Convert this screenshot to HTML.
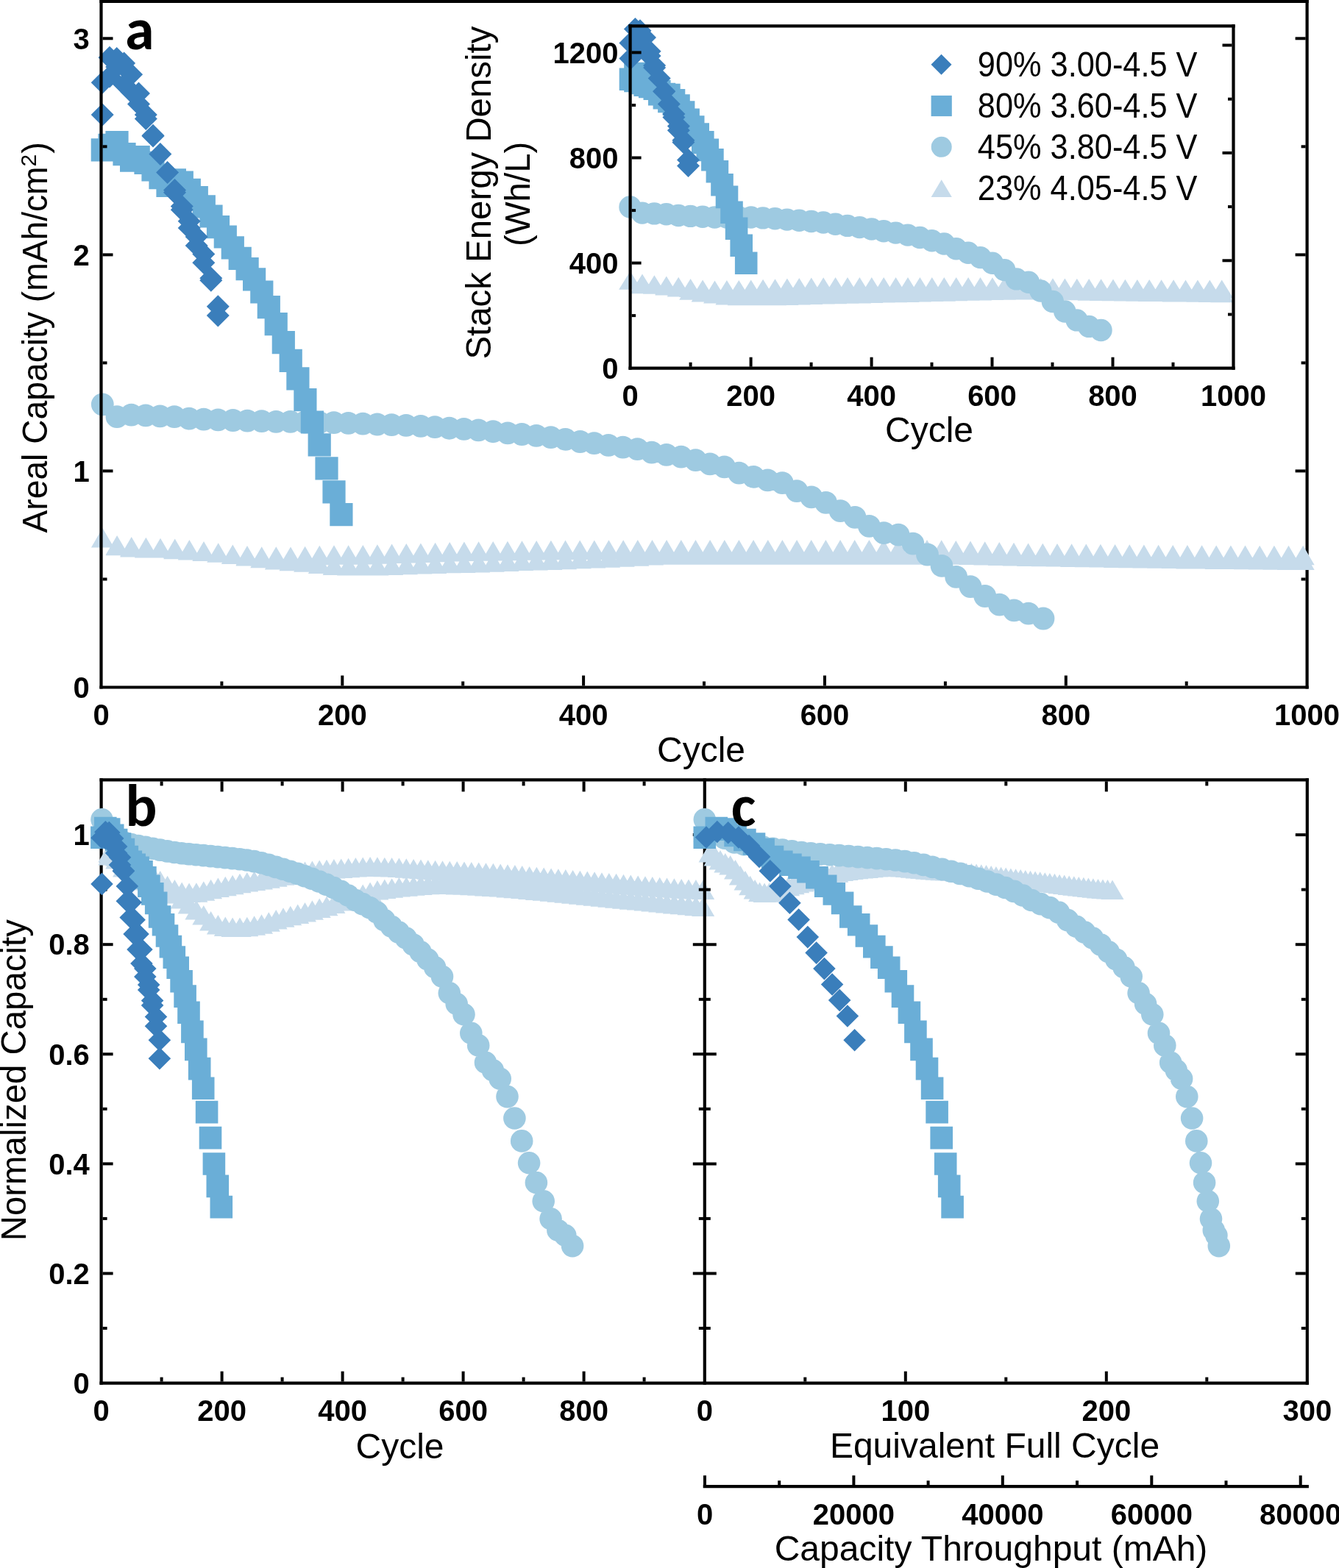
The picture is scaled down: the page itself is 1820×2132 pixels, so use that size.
<!DOCTYPE html>
<html><head><meta charset="utf-8"><title>Figure</title>
<style>html,body{margin:0;padding:0;background:#fff;} svg{display:block;}</style>
</head><body>
<svg xmlns="http://www.w3.org/2000/svg" width="1820" height="2132" viewBox="0 0 1820 2132">
<rect width="1820" height="2132" fill="#fff"/>
<line x1="135.4" y1="2" x2="1778.7" y2="2" stroke="#000" stroke-width="4.2"/>
<line x1="1776.6" y1="0" x2="1776.6" y2="936.6" stroke="#000" stroke-width="4.2"/>
<line x1="135.4" y1="934.5" x2="1778.7" y2="934.5" stroke="#000" stroke-width="4.2"/>
<line x1="301.4" y1="932.5" x2="301.4" y2="926.5" stroke="#000" stroke-width="4"/>
<line x1="465.3" y1="932.5" x2="465.3" y2="918.5" stroke="#000" stroke-width="4"/>
<line x1="629.2" y1="932.5" x2="629.2" y2="926.5" stroke="#000" stroke-width="4"/>
<line x1="793.1" y1="932.5" x2="793.1" y2="918.5" stroke="#000" stroke-width="4"/>
<line x1="957" y1="932.5" x2="957" y2="926.5" stroke="#000" stroke-width="4"/>
<line x1="1121" y1="932.5" x2="1121" y2="918.5" stroke="#000" stroke-width="4"/>
<line x1="1284.9" y1="932.5" x2="1284.9" y2="926.5" stroke="#000" stroke-width="4"/>
<line x1="1448.8" y1="932.5" x2="1448.8" y2="918.5" stroke="#000" stroke-width="4"/>
<line x1="1612.7" y1="932.5" x2="1612.7" y2="926.5" stroke="#000" stroke-width="4"/>
<line x1="1774.6" y1="787.5" x2="1768.6" y2="787.5" stroke="#000" stroke-width="4"/>
<line x1="1774.6" y1="640.4" x2="1760.6" y2="640.4" stroke="#000" stroke-width="4"/>
<line x1="1774.6" y1="493.4" x2="1768.6" y2="493.4" stroke="#000" stroke-width="4"/>
<line x1="1774.6" y1="346.4" x2="1760.6" y2="346.4" stroke="#000" stroke-width="4"/>
<line x1="1774.6" y1="199.3" x2="1768.6" y2="199.3" stroke="#000" stroke-width="4"/>
<line x1="1774.6" y1="52.3" x2="1760.6" y2="52.3" stroke="#000" stroke-width="4"/>
<path fill="#c6dbeb" d="M159.1 728.7L174.6 755.2L143.6 755.2ZM178.7 731L194.2 757.5L163.2 757.5ZM198.4 732.1L213.9 758.6L182.9 758.6ZM218 732.1L233.5 758.6L202.5 758.6ZM237.7 733.7L253.2 760.2L222.2 760.2ZM257.4 735.1L272.9 761.6L241.9 761.6ZM277 736.6L292.5 763.1L261.5 763.1ZM296.7 738.2L312.2 764.7L281.2 764.7ZM316.3 740.5L331.8 767L300.8 767ZM336 743L351.5 769.5L320.5 769.5ZM355.7 745.7L371.2 772.2L340.2 772.2ZM375.3 747.9L390.8 774.4L359.8 774.4ZM395 749.8L410.5 776.3L379.5 776.3ZM414.6 751.3L430.1 777.8L399.1 777.8ZM434.3 753.6L449.8 780.1L418.8 780.1ZM454 755.4L469.5 781.9L438.5 781.9ZM473.6 755.9L489.1 782.4L458.1 782.4ZM493.3 755.9L508.8 782.4L477.8 782.4ZM512.9 755.9L528.4 782.4L497.4 782.4ZM532.6 755.5L548.1 782L517.1 782ZM552.3 754.8L567.8 781.3L536.8 781.3ZM571.9 754.1L587.4 780.6L556.4 780.6ZM591.6 753.4L607.1 779.9L576.1 779.9ZM611.2 752.8L626.7 779.3L595.7 779.3ZM630.9 752.4L646.4 778.9L615.4 778.9ZM650.6 751.9L666.1 778.4L635.1 778.4ZM670.2 751.2L685.7 777.7L654.7 777.7ZM689.9 750.4L705.4 776.9L674.4 776.9ZM709.5 749.6L725 776.1L694 776.1ZM729.2 748.9L744.7 775.4L713.7 775.4ZM748.9 748.4L764.4 774.9L733.4 774.9ZM768.5 747.8L784 774.3L753 774.3ZM788.2 746.8L803.7 773.3L772.7 773.3ZM807.8 746L823.3 772.5L792.3 772.5ZM827.5 745.2L843 771.7L812 771.7ZM847.2 744.3L862.7 770.8L831.7 770.8ZM866.8 743.2L882.3 769.7L851.3 769.7ZM886.5 742L902 768.5L871 768.5ZM906.1 741.3L921.6 767.8L890.6 767.8ZM925.8 741.3L941.3 767.8L910.3 767.8ZM945.5 741.3L961 767.8L930 767.8ZM965.1 741.3L980.6 767.8L949.6 767.8ZM984.8 741.3L1000.3 767.8L969.3 767.8ZM1004.4 741.3L1019.9 767.8L988.9 767.8ZM1024.1 741.3L1039.6 767.8L1008.6 767.8ZM1043.8 741.3L1059.3 767.8L1028.3 767.8ZM1063.4 741.3L1078.9 767.8L1047.9 767.8ZM1083.1 741.3L1098.6 767.8L1067.6 767.8ZM1102.7 741.3L1118.2 767.8L1087.2 767.8ZM1122.4 741.3L1137.9 767.8L1106.9 767.8ZM1142.1 741.3L1157.6 767.8L1126.6 767.8ZM1161.7 741.3L1177.2 767.8L1146.2 767.8ZM1181.4 741.3L1196.9 767.8L1165.9 767.8ZM1201 741.3L1216.5 767.8L1185.5 767.8ZM1220.7 741.3L1236.2 767.8L1205.2 767.8ZM1240.4 741.3L1255.9 767.8L1224.9 767.8ZM1260 741.3L1275.5 767.8L1244.5 767.8ZM1279.7 741.3L1295.2 767.8L1264.2 767.8ZM1299.3 741.3L1314.8 767.8L1283.8 767.8ZM1319 741.5L1334.5 768L1303.5 768ZM1338.7 741.9L1354.2 768.4L1323.2 768.4ZM1358.3 742.4L1373.8 768.9L1342.8 768.9ZM1378 743L1393.5 769.5L1362.5 769.5ZM1397.6 743.5L1413.1 770L1382.1 770ZM1417.3 743.8L1432.8 770.3L1401.8 770.3ZM1437 744.1L1452.5 770.6L1421.5 770.6ZM1456.6 744.5L1472.1 771L1441.1 771ZM1476.3 744.8L1491.8 771.3L1460.8 771.3ZM1495.9 745.1L1511.4 771.6L1480.4 771.6ZM1515.6 745.4L1531.1 771.9L1500.1 771.9ZM1535.3 745.8L1550.8 772.3L1519.8 772.3ZM1554.9 746.1L1570.4 772.6L1539.4 772.6ZM1574.6 746.3L1590.1 772.8L1559.1 772.8ZM1594.2 746.6L1609.7 773.1L1578.7 773.1ZM1613.9 746.9L1629.4 773.4L1598.4 773.4ZM1633.6 747.1L1649.1 773.6L1618.1 773.6ZM1653.2 747.4L1668.7 773.9L1637.7 773.9ZM1672.9 747.6L1688.4 774.1L1657.4 774.1ZM1692.5 747.8L1708 774.3L1677 774.3ZM1712.2 748L1727.7 774.5L1696.7 774.5ZM1731.9 748.2L1747.4 774.7L1716.4 774.7ZM1751.5 748.4L1767 774.9L1736 774.9ZM1771.2 748.5L1786.7 775L1755.7 775ZM139.4 717.9L154.9 744.4L123.9 744.4ZM159.1 728.1L174.6 754.6L143.6 754.6ZM178.7 729.9L194.2 756.4L163.2 756.4ZM198.4 730.8L213.9 757.3L182.9 757.3ZM218 731.7L233.5 758.2L202.5 758.2ZM237.7 732.6L253.2 759.1L222.2 759.1ZM257.4 734L272.9 760.5L241.9 760.5ZM277 736L292.5 762.5L261.5 762.5ZM296.7 738.3L312.2 764.8L281.2 764.8ZM316.3 740.5L331.8 767L300.8 767ZM336 742.1L351.5 768.6L320.5 768.6ZM355.7 743.2L371.2 769.7L340.2 769.7ZM375.3 743.2L390.8 769.7L359.8 769.7ZM395 743.5L410.5 770L379.5 770ZM414.6 742.8L430.1 769.3L399.1 769.3ZM434.3 741.7L449.8 768.2L418.8 768.2ZM454 741.2L469.5 767.7L438.5 767.7ZM473.6 741.2L489.1 767.7L458.1 767.7ZM493.3 741L508.8 767.5L477.8 767.5ZM512.9 740.3L528.4 766.8L497.4 766.8ZM532.6 739.6L548.1 766.1L517.1 766.1ZM552.3 738.9L567.8 765.4L536.8 765.4ZM571.9 738.4L587.4 764.9L556.4 764.9ZM591.6 737.8L607.1 764.3L576.1 764.3ZM611.2 736.9L626.7 763.4L595.7 763.4ZM630.9 736.5L646.4 763L615.4 763ZM650.6 736.2L666.1 762.7L635.1 762.7ZM670.2 736L685.7 762.5L654.7 762.5ZM689.9 735.7L705.4 762.2L674.4 762.2ZM709.5 735.3L725 761.8L694 761.8ZM729.2 735L744.7 761.5L713.7 761.5ZM748.9 734.8L764.4 761.3L733.4 761.3ZM768.5 734.6L784 761.1L753 761.1ZM788.2 734.5L803.7 761L772.7 761ZM807.8 734.4L823.3 760.9L792.3 760.9ZM827.5 734.3L843 760.8L812 760.8ZM847.2 734.2L862.7 760.7L831.7 760.7ZM866.8 734.1L882.3 760.6L851.3 760.6ZM886.5 734L902 760.5L871 760.5ZM906.1 733.9L921.6 760.4L890.6 760.4ZM925.8 733.9L941.3 760.4L910.3 760.4ZM945.5 733.9L961 760.4L930 760.4ZM965.1 733.9L980.6 760.4L949.6 760.4ZM984.8 733.9L1000.3 760.4L969.3 760.4ZM1004.4 733.9L1019.9 760.4L988.9 760.4ZM1024.1 733.9L1039.6 760.4L1008.6 760.4ZM1043.8 733.9L1059.3 760.4L1028.3 760.4ZM1063.4 733.9L1078.9 760.4L1047.9 760.4ZM1083.1 733.9L1098.6 760.4L1067.6 760.4ZM1102.7 733.9L1118.2 760.4L1087.2 760.4ZM1122.4 733.9L1137.9 760.4L1106.9 760.4ZM1142.1 733.9L1157.6 760.4L1126.6 760.4ZM1161.7 733.9L1177.2 760.4L1146.2 760.4ZM1181.4 733.9L1196.9 760.4L1165.9 760.4ZM1201 733.9L1216.5 760.4L1185.5 760.4ZM1220.7 733.9L1236.2 760.4L1205.2 760.4ZM1240.4 733.9L1255.9 760.4L1224.9 760.4ZM1260 734L1275.5 760.5L1244.5 760.5ZM1279.7 734.3L1295.2 760.8L1264.2 760.8ZM1299.3 735L1314.8 761.5L1283.8 761.5ZM1319 735.6L1334.5 762.1L1303.5 762.1ZM1338.7 736.3L1354.2 762.8L1323.2 762.8ZM1358.3 737L1373.8 763.5L1342.8 763.5ZM1378 737.8L1393.5 764.3L1362.5 764.3ZM1397.6 738.4L1413.1 764.9L1382.1 764.9ZM1417.3 738.7L1432.8 765.2L1401.8 765.2ZM1437 739L1452.5 765.5L1421.5 765.5ZM1456.6 739.3L1472.1 765.8L1441.1 765.8ZM1476.3 739.6L1491.8 766.1L1460.8 766.1ZM1495.9 739.8L1511.4 766.3L1480.4 766.3ZM1515.6 740.1L1531.1 766.6L1500.1 766.6ZM1535.3 740.3L1550.8 766.8L1519.8 766.8ZM1554.9 740.6L1570.4 767.1L1539.4 767.1ZM1574.6 740.8L1590.1 767.3L1559.1 767.3ZM1594.2 741L1609.7 767.5L1578.7 767.5ZM1613.9 741.1L1629.4 767.6L1598.4 767.6ZM1633.6 741.3L1649.1 767.8L1618.1 767.8ZM1653.2 741.4L1668.7 767.9L1637.7 767.9ZM1672.9 741.5L1688.4 768L1657.4 768ZM1692.5 741.6L1708 768.1L1677 768.1ZM1712.2 741.7L1727.7 768.2L1696.7 768.2ZM1731.9 741.8L1747.4 768.3L1716.4 768.3ZM1751.5 741.8L1767 768.3L1736 768.3ZM1771.2 741.8L1786.7 768.3L1755.7 768.3Z"/>
<path fill="#9ecae1" d="M123.9 549.8a15.4 15.4 0 1 0 30.8 0a15.4 15.4 0 1 0 -30.8 0ZM143.6 566.7a15.4 15.4 0 1 0 30.8 0a15.4 15.4 0 1 0 -30.8 0ZM163.1 564.2a15.4 15.4 0 1 0 30.8 0a15.4 15.4 0 1 0 -30.8 0ZM182.6 564.9a15.4 15.4 0 1 0 30.8 0a15.4 15.4 0 1 0 -30.8 0ZM202.1 565.9a15.4 15.4 0 1 0 30.8 0a15.4 15.4 0 1 0 -30.8 0ZM221.6 566.7a15.4 15.4 0 1 0 30.8 0a15.4 15.4 0 1 0 -30.8 0ZM241.6 569.1a15.4 15.4 0 1 0 30.8 0a15.4 15.4 0 1 0 -30.8 0ZM261.5 570.1a15.4 15.4 0 1 0 30.8 0a15.4 15.4 0 1 0 -30.8 0ZM281 570.8a15.4 15.4 0 1 0 30.8 0a15.4 15.4 0 1 0 -30.8 0ZM301.3 571.5a15.4 15.4 0 1 0 30.8 0a15.4 15.4 0 1 0 -30.8 0ZM320.8 572.2a15.4 15.4 0 1 0 30.8 0a15.4 15.4 0 1 0 -30.8 0ZM340.3 572.7a15.4 15.4 0 1 0 30.8 0a15.4 15.4 0 1 0 -30.8 0ZM359.8 573.3a15.4 15.4 0 1 0 30.8 0a15.4 15.4 0 1 0 -30.8 0ZM379.3 573.3a15.4 15.4 0 1 0 30.8 0a15.4 15.4 0 1 0 -30.8 0ZM399 574a15.4 15.4 0 1 0 30.8 0a15.4 15.4 0 1 0 -30.8 0ZM418.6 574.5a15.4 15.4 0 1 0 30.8 0a15.4 15.4 0 1 0 -30.8 0ZM438.4 574.7a15.4 15.4 0 1 0 30.8 0a15.4 15.4 0 1 0 -30.8 0ZM458.1 575.4a15.4 15.4 0 1 0 30.8 0a15.4 15.4 0 1 0 -30.8 0ZM477.8 576.1a15.4 15.4 0 1 0 30.8 0a15.4 15.4 0 1 0 -30.8 0ZM497.2 577a15.4 15.4 0 1 0 30.8 0a15.4 15.4 0 1 0 -30.8 0ZM516.9 577.6a15.4 15.4 0 1 0 30.8 0a15.4 15.4 0 1 0 -30.8 0ZM536.6 578.3a15.4 15.4 0 1 0 30.8 0a15.4 15.4 0 1 0 -30.8 0ZM556.5 579.4a15.4 15.4 0 1 0 30.8 0a15.4 15.4 0 1 0 -30.8 0ZM575.7 580.6a15.4 15.4 0 1 0 30.8 0a15.4 15.4 0 1 0 -30.8 0ZM595.3 582.2a15.4 15.4 0 1 0 30.8 0a15.4 15.4 0 1 0 -30.8 0ZM615.2 583.3a15.4 15.4 0 1 0 30.8 0a15.4 15.4 0 1 0 -30.8 0ZM634.9 584.9a15.4 15.4 0 1 0 30.8 0a15.4 15.4 0 1 0 -30.8 0ZM654.8 586.7a15.4 15.4 0 1 0 30.8 0a15.4 15.4 0 1 0 -30.8 0ZM674.7 588.9a15.4 15.4 0 1 0 30.8 0a15.4 15.4 0 1 0 -30.8 0ZM693.9 590.5a15.4 15.4 0 1 0 30.8 0a15.4 15.4 0 1 0 -30.8 0ZM713.6 592.3a15.4 15.4 0 1 0 30.8 0a15.4 15.4 0 1 0 -30.8 0ZM733.3 594.6a15.4 15.4 0 1 0 30.8 0a15.4 15.4 0 1 0 -30.8 0ZM753.2 597.3a15.4 15.4 0 1 0 30.8 0a15.4 15.4 0 1 0 -30.8 0ZM773.1 600.5a15.4 15.4 0 1 0 30.8 0a15.4 15.4 0 1 0 -30.8 0ZM792.2 602.7a15.4 15.4 0 1 0 30.8 0a15.4 15.4 0 1 0 -30.8 0ZM811.6 605.4a15.4 15.4 0 1 0 30.8 0a15.4 15.4 0 1 0 -30.8 0ZM831.3 608.1a15.4 15.4 0 1 0 30.8 0a15.4 15.4 0 1 0 -30.8 0ZM851 610.6a15.4 15.4 0 1 0 30.8 0a15.4 15.4 0 1 0 -30.8 0ZM870.4 615.1a15.4 15.4 0 1 0 30.8 0a15.4 15.4 0 1 0 -30.8 0ZM890.5 618.3a15.4 15.4 0 1 0 30.8 0a15.4 15.4 0 1 0 -30.8 0ZM910.4 621.2a15.4 15.4 0 1 0 30.8 0a15.4 15.4 0 1 0 -30.8 0ZM930.1 625.7a15.4 15.4 0 1 0 30.8 0a15.4 15.4 0 1 0 -30.8 0ZM949.6 630.9a15.4 15.4 0 1 0 30.8 0a15.4 15.4 0 1 0 -30.8 0ZM969.2 634.8a15.4 15.4 0 1 0 30.8 0a15.4 15.4 0 1 0 -30.8 0ZM989.1 643.1a15.4 15.4 0 1 0 30.8 0a15.4 15.4 0 1 0 -30.8 0ZM1008.8 648.3a15.4 15.4 0 1 0 30.8 0a15.4 15.4 0 1 0 -30.8 0ZM1028 652.9a15.4 15.4 0 1 0 30.8 0a15.4 15.4 0 1 0 -30.8 0ZM1047.9 656.7a15.4 15.4 0 1 0 30.8 0a15.4 15.4 0 1 0 -30.8 0ZM1067.6 667.6a15.4 15.4 0 1 0 30.8 0a15.4 15.4 0 1 0 -30.8 0ZM1087.5 675.9a15.4 15.4 0 1 0 30.8 0a15.4 15.4 0 1 0 -30.8 0ZM1107.2 683.4a15.4 15.4 0 1 0 30.8 0a15.4 15.4 0 1 0 -30.8 0ZM1126.8 694.7a15.4 15.4 0 1 0 30.8 0a15.4 15.4 0 1 0 -30.8 0ZM1146.7 703.4a15.4 15.4 0 1 0 30.8 0a15.4 15.4 0 1 0 -30.8 0ZM1166.1 715.4a15.4 15.4 0 1 0 30.8 0a15.4 15.4 0 1 0 -30.8 0ZM1186 724.7a15.4 15.4 0 1 0 30.8 0a15.4 15.4 0 1 0 -30.8 0ZM1205.7 727.2a15.4 15.4 0 1 0 30.8 0a15.4 15.4 0 1 0 -30.8 0ZM1225.5 739.1a15.4 15.4 0 1 0 30.8 0a15.4 15.4 0 1 0 -30.8 0ZM1245.1 754a15.4 15.4 0 1 0 30.8 0a15.4 15.4 0 1 0 -30.8 0ZM1264.6 769.3a15.4 15.4 0 1 0 30.8 0a15.4 15.4 0 1 0 -30.8 0ZM1284.3 784.4a15.4 15.4 0 1 0 30.8 0a15.4 15.4 0 1 0 -30.8 0ZM1303.6 797.6a15.4 15.4 0 1 0 30.8 0a15.4 15.4 0 1 0 -30.8 0ZM1323.4 810.5a15.4 15.4 0 1 0 30.8 0a15.4 15.4 0 1 0 -30.8 0ZM1343.1 822.2a15.4 15.4 0 1 0 30.8 0a15.4 15.4 0 1 0 -30.8 0ZM1362.9 829.8a15.4 15.4 0 1 0 30.8 0a15.4 15.4 0 1 0 -30.8 0ZM1382.5 834.2a15.4 15.4 0 1 0 30.8 0a15.4 15.4 0 1 0 -30.8 0ZM1402.6 841a15.4 15.4 0 1 0 30.8 0a15.4 15.4 0 1 0 -30.8 0Z"/>
<path fill="#6aaed7" d="M123.7 188.3h31.2v31.2h-31.2ZM133.4 181.7h31.2v31.2h-31.2ZM143.4 178.1h31.2v31.2h-31.2ZM153.4 194.1h31.2v31.2h-31.2ZM163 202.6h31.2v31.2h-31.2ZM172.6 198.1h31.2v31.2h-31.2ZM182.4 205.8h31.2v31.2h-31.2ZM192.4 215.2h31.2v31.2h-31.2ZM202.4 226.1h31.2v31.2h-31.2ZM212.4 236.9h31.2v31.2h-31.2ZM221.8 229.2h31.2v31.2h-31.2ZM231.7 232.4h31.2v31.2h-31.2ZM241.7 242.8h31.2v31.2h-31.2ZM251.7 253.1h31.2v31.2h-31.2ZM261.7 265.2h31.2v31.2h-31.2ZM271.4 278.4h31.2v31.2h-31.2ZM280.9 293h31.2v31.2h-31.2ZM290.7 306.4h31.2v31.2h-31.2ZM300.7 321.3h31.2v31.2h-31.2ZM310.6 335.8h31.2v31.2h-31.2ZM320.5 350.1h31.2v31.2h-31.2ZM330 364.2h31.2v31.2h-31.2ZM340.2 381.4h31.2v31.2h-31.2ZM349.7 402.1h31.2v31.2h-31.2ZM359.6 425h31.2v31.2h-31.2ZM369.7 450.1h31.2v31.2h-31.2ZM379.6 474.7h31.2v31.2h-31.2ZM389.3 499.3h31.2v31.2h-31.2ZM399.3 528.1h31.2v31.2h-31.2ZM408.8 558.4h31.2v31.2h-31.2ZM418.6 589.3h31.2v31.2h-31.2ZM428.4 621.3h31.2v31.2h-31.2ZM438.4 653.2h31.2v31.2h-31.2ZM448.3 684h31.2v31.2h-31.2Z"/>
<path fill="#3a7ebb" d="M123.7 156L139.2 140.5L154.7 156L139.2 171.5ZM133.5 104L149 88.5L164.5 104L149 119.5ZM143.2 91L158.7 75.5L174.2 91L158.7 106.5ZM153.1 114.7L168.6 99.2L184.1 114.7L168.6 130.2ZM163.1 125L178.6 109.5L194.1 125L178.6 140.5ZM173 141.6L188.5 126.1L204 141.6L188.5 157.1ZM182.8 161.5L198.3 146L213.8 161.5L198.3 177ZM192.5 185L208 169.5L223.5 185L208 200.5ZM202.4 209.6L217.9 194.1L233.4 209.6L217.9 225.1ZM212.1 234.6L227.6 219.1L243.1 234.6L227.6 250.1ZM222 261.8L237.5 246.3L253 261.8L237.5 277.3ZM231.8 285.2L247.3 269.7L262.8 285.2L247.3 300.7ZM241.7 310L257.2 294.5L272.7 310L257.2 325.5ZM251.7 333.9L267.2 318.4L282.7 333.9L267.2 349.4ZM261.3 357.3L276.8 341.8L292.3 357.3L276.8 372.8ZM271.3 381.2L286.8 365.7L302.3 381.2L286.8 396.7ZM280.8 429L296.3 413.5L311.8 429L296.3 444.5ZM123.7 112.3L139.2 96.8L154.7 112.3L139.2 127.8ZM133.5 78.3L149 62.8L164.5 78.3L149 93.8ZM143.2 79.6L158.7 64.1L174.2 79.6L158.7 95.1ZM153.1 86.1L168.6 70.6L184.1 86.1L168.6 101.6ZM163.1 101.3L178.6 85.8L194.1 101.3L178.6 116.8ZM173 127.1L188.5 111.6L204 127.1L188.5 142.6ZM182.8 156L198.3 140.5L213.8 156L198.3 171.5ZM192.5 184.3L208 168.8L223.5 184.3L208 199.8ZM202.4 209.6L217.9 194.1L233.4 209.6L217.9 225.1ZM212.1 234.6L227.6 219.1L243.1 234.6L227.6 250.1ZM222 258.5L237.5 243L253 258.5L237.5 274ZM231.8 280.6L247.3 265.1L262.8 280.6L247.3 296.1ZM241.7 300.8L257.2 285.3L272.7 300.8L257.2 316.3ZM251.7 322L267.2 306.5L282.7 322L267.2 337.5ZM261.3 345.6L276.8 330.1L292.3 345.6L276.8 361.1ZM271.3 378.2L286.8 362.7L302.3 378.2L286.8 393.7ZM280.8 416.8L296.3 401.3L311.8 416.8L296.3 432.3Z"/>
<line x1="137.5" y1="0" x2="137.5" y2="936.6" stroke="#000" stroke-width="4.2"/>
<line x1="139.5" y1="787.5" x2="145.5" y2="787.5" stroke="#000" stroke-width="4"/>
<line x1="139.5" y1="640.4" x2="153.5" y2="640.4" stroke="#000" stroke-width="4"/>
<line x1="139.5" y1="493.4" x2="145.5" y2="493.4" stroke="#000" stroke-width="4"/>
<line x1="139.5" y1="346.4" x2="153.5" y2="346.4" stroke="#000" stroke-width="4"/>
<line x1="139.5" y1="199.3" x2="145.5" y2="199.3" stroke="#000" stroke-width="4"/>
<line x1="139.5" y1="52.3" x2="153.5" y2="52.3" stroke="#000" stroke-width="4"/>
<path fill="#c6dbeb" d="M873 374.2L888.5 399.2L857.5 399.2ZM889.4 374.8L904.9 399.8L873.9 399.8ZM905.8 376.4L921.3 401.4L890.3 401.4ZM922.2 378.5L937.7 403.5L906.7 403.5ZM938.6 382.7L954.1 407.7L923.1 407.7ZM955.1 385.4L970.6 410.4L939.6 410.4ZM971.5 387.5L987 412.5L956 412.5ZM987.9 389.5L1003.4 414.5L972.4 414.5ZM1004.3 390.3L1019.8 415.3L988.8 415.3ZM1020.7 390.3L1036.2 415.3L1005.2 415.3ZM1037.1 390.3L1052.6 415.3L1021.6 415.3ZM1053.5 390.3L1069 415.3L1038 415.3ZM1069.9 390L1085.4 415L1054.4 415ZM1086.3 389.6L1101.8 414.6L1070.8 414.6ZM1102.8 389L1118.2 414L1087.2 414ZM1119.2 388.6L1134.7 413.6L1103.7 413.6ZM1135.6 388.2L1151.1 413.2L1120.1 413.2ZM1152 387.8L1167.5 412.8L1136.5 412.8ZM1168.4 387.4L1183.9 412.4L1152.9 412.4ZM1184.8 387L1200.3 412L1169.3 412ZM1201.2 386.6L1216.7 411.6L1185.7 411.6ZM1217.6 386.2L1233.1 411.2L1202.1 411.2ZM1234 385.9L1249.5 410.9L1218.5 410.9ZM1250.4 385.5L1265.9 410.5L1234.9 410.5ZM1266.8 385.1L1282.3 410.1L1251.3 410.1ZM1283.3 384.7L1298.8 409.7L1267.8 409.7ZM1299.7 384.2L1315.2 409.2L1284.2 409.2ZM1316.1 383.8L1331.6 408.8L1300.6 408.8ZM1332.5 383.4L1348 408.4L1317 408.4ZM1348.9 383L1364.4 408L1333.4 408ZM1365.3 382.8L1380.8 407.8L1349.8 407.8ZM1381.7 382.6L1397.2 407.6L1366.2 407.6ZM1398.1 382.5L1413.6 407.5L1382.6 407.5ZM1414.5 382.6L1430 407.6L1399 407.6ZM1431 382.8L1446.5 407.8L1415.5 407.8ZM1447.4 383L1462.9 408L1431.9 408ZM1463.8 383.3L1479.3 408.3L1448.3 408.3ZM1480.2 383.7L1495.7 408.7L1464.7 408.7ZM1496.6 383.9L1512.1 408.9L1481.1 408.9ZM1513 384.2L1528.5 409.2L1497.5 409.2ZM1529.4 384.4L1544.9 409.4L1513.9 409.4ZM1545.8 384.7L1561.3 409.7L1530.3 409.7ZM1562.2 384.9L1577.7 409.9L1546.7 409.9ZM1578.6 385.1L1594.1 410.1L1563.1 410.1ZM1595 385.4L1610.5 410.4L1579.5 410.4ZM1611.5 385.6L1627 410.6L1596 410.6ZM1627.9 385.8L1643.4 410.8L1612.4 410.8ZM1644.3 386.1L1659.8 411.1L1628.8 411.1ZM1660.7 386.3L1676.2 411.3L1645.2 411.3ZM856.6 368.7L872.1 393.7L841.1 393.7ZM873 372.4L888.5 397.4L857.5 397.4ZM889.4 374.3L904.9 399.3L873.9 399.3ZM905.8 375.5L921.3 400.5L890.3 400.5ZM922.2 376.8L937.7 401.8L906.7 401.8ZM938.6 378.9L954.1 403.9L923.1 403.9ZM955.1 380.6L970.6 405.6L939.6 405.6ZM971.5 381.4L987 406.4L956 406.4ZM987.9 380.9L1003.4 405.9L972.4 405.9ZM1004.3 380.9L1019.8 405.9L988.8 405.9ZM1020.7 380.6L1036.2 405.6L1005.2 405.6ZM1037.1 379.7L1052.6 404.7L1021.6 404.7ZM1053.5 379.2L1069 404.2L1038 404.2ZM1069.9 378.5L1085.4 403.5L1054.4 403.5ZM1086.3 378L1101.8 403L1070.8 403ZM1102.8 377.5L1118.2 402.5L1087.2 402.5ZM1119.2 377.2L1134.7 402.2L1103.7 402.2ZM1135.6 377.1L1151.1 402.1L1120.1 402.1ZM1152 377.1L1167.5 402.1L1136.5 402.1ZM1168.4 377.1L1183.9 402.1L1152.9 402.1ZM1184.8 377L1200.3 402L1169.3 402ZM1201.2 377L1216.7 402L1185.7 402ZM1217.6 377L1233.1 402L1202.1 402ZM1234 377L1249.5 402L1218.5 402ZM1250.4 377L1265.9 402L1234.9 402ZM1266.8 377L1282.3 402L1251.3 402ZM1283.3 377L1298.8 402L1267.8 402ZM1299.7 377L1315.2 402L1284.2 402ZM1316.1 377.1L1331.6 402.1L1300.6 402.1ZM1332.5 377.1L1348 402.1L1317 402.1ZM1348.9 377.2L1364.4 402.2L1333.4 402.2ZM1365.3 377.3L1380.8 402.3L1349.8 402.3ZM1381.7 377.4L1397.2 402.4L1366.2 402.4ZM1398.1 377.5L1413.6 402.5L1382.6 402.5ZM1414.5 377.9L1430 402.9L1399 402.9ZM1431 378.3L1446.5 403.3L1415.5 403.3ZM1447.4 378.6L1462.9 403.6L1431.9 403.6ZM1463.8 378.8L1479.3 403.8L1448.3 403.8ZM1480.2 379.1L1495.7 404.1L1464.7 404.1ZM1496.6 379.3L1512.1 404.3L1481.1 404.3ZM1513 379.5L1528.5 404.5L1497.5 404.5ZM1529.4 379.7L1544.9 404.7L1513.9 404.7ZM1545.8 379.9L1561.3 404.9L1530.3 404.9ZM1562.2 380L1577.7 405L1546.7 405ZM1578.6 380.2L1594.1 405.2L1563.1 405.2ZM1595.1 380.3L1610.6 405.3L1579.6 405.3ZM1611.5 380.4L1627 405.4L1596 405.4ZM1627.9 380.4L1643.4 405.4L1612.4 405.4ZM1644.3 380.5L1659.8 405.5L1628.8 405.5ZM1660.7 380.5L1676.2 405.5L1645.2 405.5Z"/>
<path fill="#9ecae1" d="M841.3 281.4a15.2 15.2 0 1 0 30.4 0a15.2 15.2 0 1 0 -30.4 0ZM857.7 289.6a15.2 15.2 0 1 0 30.4 0a15.2 15.2 0 1 0 -30.4 0ZM874.1 290.4a15.2 15.2 0 1 0 30.4 0a15.2 15.2 0 1 0 -30.4 0ZM890.5 291.3a15.2 15.2 0 1 0 30.4 0a15.2 15.2 0 1 0 -30.4 0ZM906.9 293a15.2 15.2 0 1 0 30.4 0a15.2 15.2 0 1 0 -30.4 0ZM923.3 293.9a15.2 15.2 0 1 0 30.4 0a15.2 15.2 0 1 0 -30.4 0ZM939.8 294.7a15.2 15.2 0 1 0 30.4 0a15.2 15.2 0 1 0 -30.4 0ZM956.2 295.5a15.2 15.2 0 1 0 30.4 0a15.2 15.2 0 1 0 -30.4 0ZM972.6 295.5a15.2 15.2 0 1 0 30.4 0a15.2 15.2 0 1 0 -30.4 0ZM989 295.5a15.2 15.2 0 1 0 30.4 0a15.2 15.2 0 1 0 -30.4 0ZM1005.4 295.5a15.2 15.2 0 1 0 30.4 0a15.2 15.2 0 1 0 -30.4 0ZM1021.8 296.4a15.2 15.2 0 1 0 30.4 0a15.2 15.2 0 1 0 -30.4 0ZM1038.2 297.2a15.2 15.2 0 1 0 30.4 0a15.2 15.2 0 1 0 -30.4 0ZM1054.6 298.6a15.2 15.2 0 1 0 30.4 0a15.2 15.2 0 1 0 -30.4 0ZM1071 299.8a15.2 15.2 0 1 0 30.4 0a15.2 15.2 0 1 0 -30.4 0ZM1087.5 301a15.2 15.2 0 1 0 30.4 0a15.2 15.2 0 1 0 -30.4 0ZM1103.9 302.5a15.2 15.2 0 1 0 30.4 0a15.2 15.2 0 1 0 -30.4 0ZM1120.3 304.7a15.2 15.2 0 1 0 30.4 0a15.2 15.2 0 1 0 -30.4 0ZM1136.7 306.9a15.2 15.2 0 1 0 30.4 0a15.2 15.2 0 1 0 -30.4 0ZM1153.1 309.1a15.2 15.2 0 1 0 30.4 0a15.2 15.2 0 1 0 -30.4 0ZM1169.5 311.5a15.2 15.2 0 1 0 30.4 0a15.2 15.2 0 1 0 -30.4 0ZM1185.9 314.2a15.2 15.2 0 1 0 30.4 0a15.2 15.2 0 1 0 -30.4 0ZM1202.3 316.6a15.2 15.2 0 1 0 30.4 0a15.2 15.2 0 1 0 -30.4 0ZM1218.7 319.6a15.2 15.2 0 1 0 30.4 0a15.2 15.2 0 1 0 -30.4 0ZM1235.1 323a15.2 15.2 0 1 0 30.4 0a15.2 15.2 0 1 0 -30.4 0ZM1251.5 327.2a15.2 15.2 0 1 0 30.4 0a15.2 15.2 0 1 0 -30.4 0ZM1268 331.5a15.2 15.2 0 1 0 30.4 0a15.2 15.2 0 1 0 -30.4 0ZM1284.4 338.3a15.2 15.2 0 1 0 30.4 0a15.2 15.2 0 1 0 -30.4 0ZM1300.8 343.7a15.2 15.2 0 1 0 30.4 0a15.2 15.2 0 1 0 -30.4 0ZM1317.2 350.1a15.2 15.2 0 1 0 30.4 0a15.2 15.2 0 1 0 -30.4 0ZM1333.6 357.8a15.2 15.2 0 1 0 30.4 0a15.2 15.2 0 1 0 -30.4 0ZM1350 367.1a15.2 15.2 0 1 0 30.4 0a15.2 15.2 0 1 0 -30.4 0ZM1366.4 379.4a15.2 15.2 0 1 0 30.4 0a15.2 15.2 0 1 0 -30.4 0ZM1382.8 383.7a15.2 15.2 0 1 0 30.4 0a15.2 15.2 0 1 0 -30.4 0ZM1399.2 395.5a15.2 15.2 0 1 0 30.4 0a15.2 15.2 0 1 0 -30.4 0ZM1415.6 410a15.2 15.2 0 1 0 30.4 0a15.2 15.2 0 1 0 -30.4 0ZM1432.1 423.5a15.2 15.2 0 1 0 30.4 0a15.2 15.2 0 1 0 -30.4 0ZM1448.5 435.4a15.2 15.2 0 1 0 30.4 0a15.2 15.2 0 1 0 -30.4 0ZM1464.9 443.9a15.2 15.2 0 1 0 30.4 0a15.2 15.2 0 1 0 -30.4 0ZM1481.3 449a15.2 15.2 0 1 0 30.4 0a15.2 15.2 0 1 0 -30.4 0Z"/>
<path fill="#6aaed7" d="M841.7 92.5h30.6v30.6h-30.6ZM848.2 94.7h30.6v30.6h-30.6ZM854.8 97.7h30.6v30.6h-30.6ZM861.4 100.5h30.6v30.6h-30.6ZM867.9 102.7h30.6v30.6h-30.6ZM874.5 105.5h30.6v30.6h-30.6ZM881 112.9h30.6v30.6h-30.6ZM887.6 118h30.6v30.6h-30.6ZM894.1 122.7h30.6v30.6h-30.6ZM900.7 126.7h30.6v30.6h-30.6ZM907.2 132.7h30.6v30.6h-30.6ZM913.8 139.7h30.6v30.6h-30.6ZM920.3 148.7h30.6v30.6h-30.6ZM926.9 158.7h30.6v30.6h-30.6ZM933.4 168.7h30.6v30.6h-30.6ZM940 178.7h30.6v30.6h-30.6ZM946.5 188.7h30.6v30.6h-30.6ZM953.1 202h30.6v30.6h-30.6ZM959.6 218h30.6v30.6h-30.6ZM966.2 235.9h30.6v30.6h-30.6ZM972.7 252.6h30.6v30.6h-30.6ZM979.2 273.5h30.6v30.6h-30.6ZM985.8 295.4h30.6v30.6h-30.6ZM992.4 318.4h30.6v30.6h-30.6ZM998.9 342.4h30.6v30.6h-30.6ZM841.7 92.5h30.6v30.6h-30.6ZM848.2 84.7h30.6v30.6h-30.6ZM854.8 85.7h30.6v30.6h-30.6ZM861.4 87.1h30.6v30.6h-30.6ZM867.9 94.7h30.6v30.6h-30.6ZM874.5 102.7h30.6v30.6h-30.6ZM881 108.7h30.6v30.6h-30.6ZM887.6 112.7h30.6v30.6h-30.6ZM894.1 113.7h30.6v30.6h-30.6ZM900.7 121h30.6v30.6h-30.6ZM907.2 128.3h30.6v30.6h-30.6ZM913.8 137.3h30.6v30.6h-30.6ZM920.3 147.5h30.6v30.6h-30.6ZM926.9 157.2h30.6v30.6h-30.6ZM933.4 167.3h30.6v30.6h-30.6ZM940 178.1h30.6v30.6h-30.6ZM946.5 188.6h30.6v30.6h-30.6ZM953.1 202h30.6v30.6h-30.6ZM959.6 218h30.6v30.6h-30.6ZM966.2 235.9h30.6v30.6h-30.6ZM972.7 252.6h30.6v30.6h-30.6ZM979.2 273.5h30.6v30.6h-30.6ZM985.8 295.4h30.6v30.6h-30.6ZM992.4 318.4h30.6v30.6h-30.6ZM998.9 342.4h30.6v30.6h-30.6Z"/>
<path fill="#3a7ebb" d="M841.4 79.4L856.9 63.9L872.4 79.4L856.9 94.9ZM847.9 58L863.4 42.5L878.9 58L863.4 73.5ZM854.5 62L870 46.5L885.5 62L870 77.5ZM861 66L876.5 50.5L892 66L876.5 81.5ZM867.6 76L883.1 60.5L898.6 76L883.1 91.5ZM874.1 92L889.6 76.5L905.1 92L889.6 107.5ZM880.7 106.5L896.2 91L911.7 106.5L896.2 122ZM887.2 124.6L902.8 109.1L918.2 124.6L902.8 140.1ZM893.8 141.5L909.3 126L924.8 141.5L909.3 157ZM900.4 159.6L915.9 144.1L931.4 159.6L915.9 175.1ZM906.9 177.2L922.4 161.7L937.9 177.2L922.4 192.7ZM913.4 193.5L928.9 178L944.4 193.5L928.9 209ZM920 225.4L935.5 209.9L951 225.4L935.5 240.9ZM841.4 58.4L856.9 42.9L872.4 58.4L856.9 73.9ZM847.9 39.5L863.4 24L878.9 39.5L863.4 55ZM854.5 41.7L870 26.2L885.5 41.7L870 57.2ZM861 51.1L876.5 35.6L892 51.1L876.5 66.6ZM867.6 69.7L883.1 54.2L898.6 69.7L883.1 85.2ZM874.1 89L889.6 73.5L905.1 89L889.6 104.5ZM880.7 106.5L896.2 91L911.7 106.5L896.2 122ZM887.2 124L902.8 108.5L918.2 124L902.8 139.5ZM893.8 141.5L909.3 126L924.8 141.5L909.3 157ZM900.4 155.1L915.9 139.6L931.4 155.1L915.9 170.6ZM906.9 171.5L922.4 156L937.9 171.5L922.4 187ZM913.4 190.7L928.9 175.2L944.4 190.7L928.9 206.2ZM920 217.6L935.5 202.1L951 217.6L935.5 233.1Z"/>
<line x1="854.5" y1="35.3" x2="1678.6" y2="35.3" stroke="#000" stroke-width="4.2"/>
<line x1="856.6" y1="33.2" x2="856.6" y2="502.8" stroke="#000" stroke-width="4.2"/>
<line x1="1676.5" y1="33.2" x2="1676.5" y2="502.8" stroke="#000" stroke-width="4.2"/>
<line x1="854.5" y1="500.7" x2="1678.6" y2="500.7" stroke="#000" stroke-width="4.2"/>
<line x1="938.6" y1="498.7" x2="938.6" y2="492.7" stroke="#000" stroke-width="4"/>
<line x1="1020.6" y1="498.7" x2="1020.6" y2="485.7" stroke="#000" stroke-width="4"/>
<line x1="1102.6" y1="498.7" x2="1102.6" y2="492.7" stroke="#000" stroke-width="4"/>
<line x1="1184.6" y1="498.7" x2="1184.6" y2="485.7" stroke="#000" stroke-width="4"/>
<line x1="1266.5" y1="498.7" x2="1266.5" y2="492.7" stroke="#000" stroke-width="4"/>
<line x1="1348.5" y1="498.7" x2="1348.5" y2="485.7" stroke="#000" stroke-width="4"/>
<line x1="1430.5" y1="498.7" x2="1430.5" y2="492.7" stroke="#000" stroke-width="4"/>
<line x1="1512.5" y1="498.7" x2="1512.5" y2="485.7" stroke="#000" stroke-width="4"/>
<line x1="1594.5" y1="498.7" x2="1594.5" y2="492.7" stroke="#000" stroke-width="4"/>
<line x1="858.6" y1="429.1" x2="864.1" y2="429.1" stroke="#000" stroke-width="4"/>
<line x1="858.6" y1="357.6" x2="871.6" y2="357.6" stroke="#000" stroke-width="4"/>
<line x1="858.6" y1="286.1" x2="864.1" y2="286.1" stroke="#000" stroke-width="4"/>
<line x1="858.6" y1="214.5" x2="871.6" y2="214.5" stroke="#000" stroke-width="4"/>
<line x1="858.6" y1="143" x2="864.1" y2="143" stroke="#000" stroke-width="4"/>
<line x1="858.6" y1="71.4" x2="871.6" y2="71.4" stroke="#000" stroke-width="4"/>
<line x1="1674.5" y1="427.5" x2="1669" y2="427.5" stroke="#000" stroke-width="4"/>
<line x1="1674.5" y1="354.3" x2="1661.5" y2="354.3" stroke="#000" stroke-width="4"/>
<line x1="1674.5" y1="281.1" x2="1669" y2="281.1" stroke="#000" stroke-width="4"/>
<line x1="1674.5" y1="207.9" x2="1661.5" y2="207.9" stroke="#000" stroke-width="4"/>
<line x1="1674.5" y1="134.7" x2="1669" y2="134.7" stroke="#000" stroke-width="4"/>
<line x1="1674.5" y1="61.5" x2="1661.5" y2="61.5" stroke="#000" stroke-width="4"/>
<line x1="135.5" y1="1060.4" x2="1778.9" y2="1060.4" stroke="#000" stroke-width="4.2"/>
<line x1="135.5" y1="1880.6" x2="1778.9" y2="1880.6" stroke="#000" stroke-width="4.2"/>
<line x1="1776.8" y1="1058.3" x2="1776.8" y2="1882.7" stroke="#000" stroke-width="4.2"/>
<line x1="219.6" y1="1878.6" x2="219.6" y2="1872.6" stroke="#000" stroke-width="4"/>
<line x1="219.6" y1="1062.4" x2="219.6" y2="1068.4" stroke="#000" stroke-width="4"/>
<line x1="301.6" y1="1878.6" x2="301.6" y2="1864.6" stroke="#000" stroke-width="4"/>
<line x1="301.6" y1="1062.4" x2="301.6" y2="1076.4" stroke="#000" stroke-width="4"/>
<line x1="383.6" y1="1878.6" x2="383.6" y2="1872.6" stroke="#000" stroke-width="4"/>
<line x1="383.6" y1="1062.4" x2="383.6" y2="1068.4" stroke="#000" stroke-width="4"/>
<line x1="465.6" y1="1878.6" x2="465.6" y2="1864.6" stroke="#000" stroke-width="4"/>
<line x1="465.6" y1="1062.4" x2="465.6" y2="1076.4" stroke="#000" stroke-width="4"/>
<line x1="547.6" y1="1878.6" x2="547.6" y2="1872.6" stroke="#000" stroke-width="4"/>
<line x1="547.6" y1="1062.4" x2="547.6" y2="1068.4" stroke="#000" stroke-width="4"/>
<line x1="629.6" y1="1878.6" x2="629.6" y2="1864.6" stroke="#000" stroke-width="4"/>
<line x1="629.6" y1="1062.4" x2="629.6" y2="1076.4" stroke="#000" stroke-width="4"/>
<line x1="711.6" y1="1878.6" x2="711.6" y2="1872.6" stroke="#000" stroke-width="4"/>
<line x1="711.6" y1="1062.4" x2="711.6" y2="1068.4" stroke="#000" stroke-width="4"/>
<line x1="793.6" y1="1878.6" x2="793.6" y2="1864.6" stroke="#000" stroke-width="4"/>
<line x1="793.6" y1="1062.4" x2="793.6" y2="1076.4" stroke="#000" stroke-width="4"/>
<line x1="875.6" y1="1878.6" x2="875.6" y2="1872.6" stroke="#000" stroke-width="4"/>
<line x1="875.6" y1="1062.4" x2="875.6" y2="1068.4" stroke="#000" stroke-width="4"/>
<line x1="1094.3" y1="1878.6" x2="1094.3" y2="1872.6" stroke="#000" stroke-width="4"/>
<line x1="1094.3" y1="1062.4" x2="1094.3" y2="1068.4" stroke="#000" stroke-width="4"/>
<line x1="1230.8" y1="1878.6" x2="1230.8" y2="1864.6" stroke="#000" stroke-width="4"/>
<line x1="1230.8" y1="1062.4" x2="1230.8" y2="1076.4" stroke="#000" stroke-width="4"/>
<line x1="1367.3" y1="1878.6" x2="1367.3" y2="1872.6" stroke="#000" stroke-width="4"/>
<line x1="1367.3" y1="1062.4" x2="1367.3" y2="1068.4" stroke="#000" stroke-width="4"/>
<line x1="1503.8" y1="1878.6" x2="1503.8" y2="1864.6" stroke="#000" stroke-width="4"/>
<line x1="1503.8" y1="1062.4" x2="1503.8" y2="1076.4" stroke="#000" stroke-width="4"/>
<line x1="1640.3" y1="1878.6" x2="1640.3" y2="1872.6" stroke="#000" stroke-width="4"/>
<line x1="1640.3" y1="1062.4" x2="1640.3" y2="1068.4" stroke="#000" stroke-width="4"/>
<line x1="1774.8" y1="1806" x2="1768.8" y2="1806" stroke="#000" stroke-width="4"/>
<line x1="1774.8" y1="1731.5" x2="1760.8" y2="1731.5" stroke="#000" stroke-width="4"/>
<line x1="1774.8" y1="1656.9" x2="1768.8" y2="1656.9" stroke="#000" stroke-width="4"/>
<line x1="1774.8" y1="1582.4" x2="1760.8" y2="1582.4" stroke="#000" stroke-width="4"/>
<line x1="1774.8" y1="1507.8" x2="1768.8" y2="1507.8" stroke="#000" stroke-width="4"/>
<line x1="1774.8" y1="1433.3" x2="1760.8" y2="1433.3" stroke="#000" stroke-width="4"/>
<line x1="1774.8" y1="1358.8" x2="1768.8" y2="1358.8" stroke="#000" stroke-width="4"/>
<line x1="1774.8" y1="1284.2" x2="1760.8" y2="1284.2" stroke="#000" stroke-width="4"/>
<line x1="1774.8" y1="1209.6" x2="1768.8" y2="1209.6" stroke="#000" stroke-width="4"/>
<line x1="1774.8" y1="1135.1" x2="1760.8" y2="1135.1" stroke="#000" stroke-width="4"/>
<line x1="137.6" y1="1058.3" x2="137.6" y2="1882.7" stroke="#000" stroke-width="4.2"/>
<line x1="139.6" y1="1806" x2="145.6" y2="1806" stroke="#000" stroke-width="4"/>
<line x1="139.6" y1="1731.5" x2="153.6" y2="1731.5" stroke="#000" stroke-width="4"/>
<line x1="139.6" y1="1656.9" x2="145.6" y2="1656.9" stroke="#000" stroke-width="4"/>
<line x1="139.6" y1="1582.4" x2="153.6" y2="1582.4" stroke="#000" stroke-width="4"/>
<line x1="139.6" y1="1507.8" x2="145.6" y2="1507.8" stroke="#000" stroke-width="4"/>
<line x1="139.6" y1="1433.3" x2="153.6" y2="1433.3" stroke="#000" stroke-width="4"/>
<line x1="139.6" y1="1358.8" x2="145.6" y2="1358.8" stroke="#000" stroke-width="4"/>
<line x1="139.6" y1="1284.2" x2="153.6" y2="1284.2" stroke="#000" stroke-width="4"/>
<line x1="139.6" y1="1209.6" x2="145.6" y2="1209.6" stroke="#000" stroke-width="4"/>
<line x1="139.6" y1="1135.1" x2="153.6" y2="1135.1" stroke="#000" stroke-width="4"/>
<path fill="#c6dbeb" d="M139 1120L154.5 1146.5L123.5 1146.5ZM148.8 1150L164.3 1176.5L133.3 1176.5ZM158.7 1155L174.2 1181.5L143.2 1181.5ZM168.5 1166L184 1192.5L153 1192.5ZM178.4 1176L193.9 1202.5L162.9 1202.5ZM188.2 1180L203.7 1206.5L172.7 1206.5ZM198 1184L213.5 1210.5L182.5 1210.5ZM207.9 1188L223.4 1214.5L192.4 1214.5ZM217.7 1192L233.2 1218.5L202.2 1218.5ZM227.6 1196L243.1 1222.5L212.1 1222.5ZM237.4 1202L252.9 1228.5L221.9 1228.5ZM247.2 1209L262.7 1235.5L231.7 1235.5ZM257.1 1216L272.6 1242.5L241.6 1242.5ZM266.9 1223.9L282.4 1250.4L251.4 1250.4ZM276.8 1231L292.3 1257.5L261.3 1257.5ZM286.6 1239L302.1 1265.5L271.1 1265.5ZM296.4 1244L311.9 1270.5L280.9 1270.5ZM306.3 1246.6L321.8 1273.1L290.8 1273.1ZM316.1 1247.4L331.6 1273.9L300.6 1273.9ZM326 1247.4L341.5 1273.9L310.5 1273.9ZM335.8 1246.7L351.3 1273.2L320.3 1273.2ZM345.6 1245.2L361.1 1271.7L330.1 1271.7ZM355.5 1243.2L371 1269.7L340 1269.7ZM365.3 1240.3L380.8 1266.8L349.8 1266.8ZM375.2 1237.1L390.7 1263.6L359.7 1263.6ZM385 1234.3L400.5 1260.8L369.5 1260.8ZM394.8 1231.7L410.3 1258.2L379.3 1258.2ZM404.7 1229.5L420.2 1256L389.2 1256ZM414.5 1226.9L430 1253.4L399 1253.4ZM424.4 1224.2L439.9 1250.7L408.9 1250.7ZM434.2 1221.6L449.7 1248.1L418.7 1248.1ZM444 1218.8L459.5 1245.3L428.5 1245.3ZM453.9 1215.5L469.4 1242L438.4 1242ZM463.7 1211.9L479.2 1238.4L448.2 1238.4ZM473.6 1208.6L489.1 1235.1L458.1 1235.1ZM483.4 1205.5L498.9 1232L467.9 1232ZM493.2 1202.6L508.7 1229.1L477.7 1229.1ZM503.1 1199.6L518.6 1226.1L487.6 1226.1ZM512.9 1197.1L528.4 1223.6L497.4 1223.6ZM522.8 1195.5L538.3 1222L507.3 1222ZM532.6 1194.2L548.1 1220.7L517.1 1220.7ZM542.4 1193.1L557.9 1219.6L526.9 1219.6ZM552.3 1192.2L567.8 1218.7L536.8 1218.7ZM562.1 1191.3L577.6 1217.8L546.6 1217.8ZM572 1190.4L587.5 1216.9L556.5 1216.9ZM581.8 1189.7L597.3 1216.2L566.3 1216.2ZM591.6 1189.3L607.1 1215.8L576.1 1215.8ZM601.5 1189.3L617 1215.8L586 1215.8ZM611.3 1189.5L626.8 1216L595.8 1216ZM621.2 1189.9L636.7 1216.4L605.7 1216.4ZM631 1190.3L646.5 1216.8L615.5 1216.8ZM640.8 1190.8L656.3 1217.3L625.3 1217.3ZM650.7 1191.3L666.2 1217.8L635.2 1217.8ZM660.5 1191.9L676 1218.4L645 1218.4ZM670.4 1192.4L685.9 1218.9L654.9 1218.9ZM680.2 1193.1L695.7 1219.6L664.7 1219.6ZM690 1193.9L705.5 1220.4L674.5 1220.4ZM699.9 1194.7L715.4 1221.2L684.4 1221.2ZM709.7 1195.6L725.2 1222.1L694.2 1222.1ZM719.6 1196.5L735.1 1223L704.1 1223ZM729.4 1197.4L744.9 1223.9L713.9 1223.9ZM739.2 1198.3L754.7 1224.8L723.7 1224.8ZM749.1 1199.3L764.6 1225.8L733.6 1225.8ZM758.9 1200.2L774.4 1226.7L743.4 1226.7ZM768.8 1201.2L784.3 1227.7L753.3 1227.7ZM778.6 1202.2L794.1 1228.7L763.1 1228.7ZM788.4 1203.2L803.9 1229.7L772.9 1229.7ZM798.3 1204.2L813.8 1230.7L782.8 1230.7ZM808.1 1205.2L823.6 1231.7L792.6 1231.7ZM818 1206.2L833.5 1232.7L802.5 1232.7ZM827.8 1207.2L843.3 1233.7L812.3 1233.7ZM837.6 1208.2L853.1 1234.7L822.1 1234.7ZM847.5 1209.2L863 1235.7L832 1235.7ZM857.3 1210.2L872.8 1236.7L841.8 1236.7ZM867.2 1211.1L882.7 1237.6L851.7 1237.6ZM877 1212.1L892.5 1238.6L861.5 1238.6ZM886.8 1213.1L902.3 1239.6L871.3 1239.6ZM896.7 1214L912.2 1240.5L881.2 1240.5ZM906.5 1215L922 1241.5L891 1241.5ZM916.4 1215.9L931.9 1242.4L900.9 1242.4ZM926.2 1216.8L941.7 1243.3L910.7 1243.3ZM936 1217.7L951.5 1244.2L920.5 1244.2ZM945.9 1218.7L961.4 1245.2L930.4 1245.2ZM955.7 1219.6L971.2 1246.1L940.2 1246.1ZM139 1118L154.5 1144.5L123.5 1144.5ZM148.8 1146L164.3 1172.5L133.3 1172.5ZM158.7 1151L174.2 1177.5L143.2 1177.5ZM168.5 1156L184 1182.5L153 1182.5ZM178.4 1160L193.9 1186.5L162.9 1186.5ZM188.2 1163L203.7 1189.5L172.7 1189.5ZM198 1169L213.5 1195.5L182.5 1195.5ZM207.9 1177L223.4 1203.5L192.4 1203.5ZM217.7 1184L233.2 1210.5L202.2 1210.5ZM227.6 1190.8L243.1 1217.3L212.1 1217.3ZM237.4 1196.1L252.9 1222.6L221.9 1222.6ZM247.2 1199.6L262.7 1226.1L231.7 1226.1ZM257.1 1200.5L272.6 1227L241.6 1227ZM266.9 1200.3L282.4 1226.8L251.4 1226.8ZM276.8 1198.3L292.3 1224.8L261.3 1224.8ZM286.6 1195.7L302.1 1222.2L271.1 1222.2ZM296.4 1193.6L311.9 1220.1L280.9 1220.1ZM306.3 1191.7L321.8 1218.2L290.8 1218.2ZM316.1 1189.7L331.6 1216.2L300.6 1216.2ZM326 1187.7L341.5 1214.2L310.5 1214.2ZM335.8 1185.9L351.3 1212.4L320.3 1212.4ZM345.6 1184.5L361.1 1211L330.1 1211ZM355.5 1183L371 1209.5L340 1209.5ZM365.3 1181.3L380.8 1207.8L349.8 1207.8ZM375.2 1179.3L390.7 1205.8L359.7 1205.8ZM385 1177.2L400.5 1203.7L369.5 1203.7ZM394.8 1175.1L410.3 1201.6L379.3 1201.6ZM404.7 1173.2L420.2 1199.7L389.2 1199.7ZM414.5 1171.6L430 1198.1L399 1198.1ZM424.4 1170.4L439.9 1196.9L408.9 1196.9ZM434.2 1169.5L449.7 1196L418.7 1196ZM444 1168.7L459.5 1195.2L428.5 1195.2ZM453.9 1168.1L469.4 1194.6L438.4 1194.6ZM463.7 1167.5L479.2 1194L448.2 1194ZM473.6 1166.8L489.1 1193.3L458.1 1193.3ZM483.4 1166L498.9 1192.5L467.9 1192.5ZM493.2 1165.4L508.7 1191.9L477.7 1191.9ZM503.1 1165.1L518.6 1191.6L487.6 1191.6ZM512.9 1165.3L528.4 1191.8L497.4 1191.8ZM522.8 1165.7L538.3 1192.2L507.3 1192.2ZM532.6 1166.1L548.1 1192.6L517.1 1192.6ZM542.4 1166.6L557.9 1193.1L526.9 1193.1ZM552.3 1167.3L567.8 1193.8L536.8 1193.8ZM562.1 1168L577.6 1194.5L546.6 1194.5ZM572 1168.6L587.5 1195.1L556.5 1195.1ZM581.8 1169.2L597.3 1195.7L566.3 1195.7ZM591.6 1169.7L607.1 1196.2L576.1 1196.2ZM601.5 1170.2L617 1196.7L586 1196.7ZM611.3 1170.7L626.8 1197.2L595.8 1197.2ZM621.2 1171.1L636.7 1197.6L605.7 1197.6ZM631 1171.6L646.5 1198.1L615.5 1198.1ZM640.8 1172.1L656.3 1198.6L625.3 1198.6ZM650.7 1172.6L666.2 1199.1L635.2 1199.1ZM660.5 1173.2L676 1199.7L645 1199.7ZM670.4 1173.8L685.9 1200.3L654.9 1200.3ZM680.2 1174.5L695.7 1201L664.7 1201ZM690 1175.3L705.5 1201.8L674.5 1201.8ZM699.9 1176.1L715.4 1202.6L684.4 1202.6ZM709.7 1177L725.2 1203.5L694.2 1203.5ZM719.6 1177.9L735.1 1204.4L704.1 1204.4ZM729.4 1178.7L744.9 1205.2L713.9 1205.2ZM739.2 1179.6L754.7 1206.1L723.7 1206.1ZM749.1 1180.4L764.6 1206.9L733.6 1206.9ZM758.9 1181.2L774.4 1207.7L743.4 1207.7ZM768.8 1182L784.3 1208.5L753.3 1208.5ZM778.6 1182.9L794.1 1209.4L763.1 1209.4ZM788.4 1183.7L803.9 1210.2L772.9 1210.2ZM798.3 1184.5L813.8 1211L782.8 1211ZM808.1 1185.3L823.6 1211.8L792.6 1211.8ZM818 1186.2L833.5 1212.7L802.5 1212.7ZM827.8 1187L843.3 1213.5L812.3 1213.5ZM837.6 1187.8L853.1 1214.3L822.1 1214.3ZM847.5 1188.7L863 1215.2L832 1215.2ZM857.3 1189.6L872.8 1216.1L841.8 1216.1ZM867.2 1190.4L882.7 1216.9L851.7 1216.9ZM877 1191.3L892.5 1217.8L861.5 1217.8ZM886.8 1192.1L902.3 1218.6L871.3 1218.6ZM896.7 1192.8L912.2 1219.3L881.2 1219.3ZM906.5 1193.6L922 1220.1L891 1220.1ZM916.4 1194.2L931.9 1220.7L900.9 1220.7ZM926.2 1194.9L941.7 1221.4L910.7 1221.4ZM936 1195.5L951.5 1222L920.5 1222ZM945.9 1196L961.4 1222.5L930.4 1222.5ZM955.7 1196.6L971.2 1223.1L940.2 1223.1Z"/>
<path fill="#9ecae1" d="M123.2 1114.3a15.3 15.3 0 1 0 30.6 0a15.3 15.3 0 1 0 -30.6 0ZM133 1128a15.3 15.3 0 1 0 30.6 0a15.3 15.3 0 1 0 -30.6 0ZM142.9 1139.6a15.3 15.3 0 1 0 30.6 0a15.3 15.3 0 1 0 -30.6 0ZM152.7 1145.4a15.3 15.3 0 1 0 30.6 0a15.3 15.3 0 1 0 -30.6 0ZM162.6 1148.1a15.3 15.3 0 1 0 30.6 0a15.3 15.3 0 1 0 -30.6 0ZM172.4 1150a15.3 15.3 0 1 0 30.6 0a15.3 15.3 0 1 0 -30.6 0ZM182.2 1151.7a15.3 15.3 0 1 0 30.6 0a15.3 15.3 0 1 0 -30.6 0ZM192.1 1153.7a15.3 15.3 0 1 0 30.6 0a15.3 15.3 0 1 0 -30.6 0ZM201.9 1155.6a15.3 15.3 0 1 0 30.6 0a15.3 15.3 0 1 0 -30.6 0ZM211.8 1157.4a15.3 15.3 0 1 0 30.6 0a15.3 15.3 0 1 0 -30.6 0ZM221.6 1159a15.3 15.3 0 1 0 30.6 0a15.3 15.3 0 1 0 -30.6 0ZM231.4 1160.3a15.3 15.3 0 1 0 30.6 0a15.3 15.3 0 1 0 -30.6 0ZM241.3 1161.3a15.3 15.3 0 1 0 30.6 0a15.3 15.3 0 1 0 -30.6 0ZM251.1 1162.2a15.3 15.3 0 1 0 30.6 0a15.3 15.3 0 1 0 -30.6 0ZM261 1163.1a15.3 15.3 0 1 0 30.6 0a15.3 15.3 0 1 0 -30.6 0ZM270.8 1164.1a15.3 15.3 0 1 0 30.6 0a15.3 15.3 0 1 0 -30.6 0ZM280.6 1165.1a15.3 15.3 0 1 0 30.6 0a15.3 15.3 0 1 0 -30.6 0ZM290.5 1166.1a15.3 15.3 0 1 0 30.6 0a15.3 15.3 0 1 0 -30.6 0ZM300.3 1167.1a15.3 15.3 0 1 0 30.6 0a15.3 15.3 0 1 0 -30.6 0ZM310.2 1168.2a15.3 15.3 0 1 0 30.6 0a15.3 15.3 0 1 0 -30.6 0ZM320 1169.5a15.3 15.3 0 1 0 30.6 0a15.3 15.3 0 1 0 -30.6 0ZM329.8 1171.1a15.3 15.3 0 1 0 30.6 0a15.3 15.3 0 1 0 -30.6 0ZM339.7 1173.2a15.3 15.3 0 1 0 30.6 0a15.3 15.3 0 1 0 -30.6 0ZM349.5 1175.9a15.3 15.3 0 1 0 30.6 0a15.3 15.3 0 1 0 -30.6 0ZM359.4 1178.9a15.3 15.3 0 1 0 30.6 0a15.3 15.3 0 1 0 -30.6 0ZM369.2 1181.8a15.3 15.3 0 1 0 30.6 0a15.3 15.3 0 1 0 -30.6 0ZM379 1184.8a15.3 15.3 0 1 0 30.6 0a15.3 15.3 0 1 0 -30.6 0ZM388.9 1187.9a15.3 15.3 0 1 0 30.6 0a15.3 15.3 0 1 0 -30.6 0ZM398.7 1191.2a15.3 15.3 0 1 0 30.6 0a15.3 15.3 0 1 0 -30.6 0ZM408.6 1194.7a15.3 15.3 0 1 0 30.6 0a15.3 15.3 0 1 0 -30.6 0ZM418.4 1198.5a15.3 15.3 0 1 0 30.6 0a15.3 15.3 0 1 0 -30.6 0ZM428.2 1202.6a15.3 15.3 0 1 0 30.6 0a15.3 15.3 0 1 0 -30.6 0ZM438.1 1207a15.3 15.3 0 1 0 30.6 0a15.3 15.3 0 1 0 -30.6 0ZM447.9 1211.9a15.3 15.3 0 1 0 30.6 0a15.3 15.3 0 1 0 -30.6 0ZM457.8 1217.5a15.3 15.3 0 1 0 30.6 0a15.3 15.3 0 1 0 -30.6 0ZM467.6 1224a15.3 15.3 0 1 0 30.6 0a15.3 15.3 0 1 0 -30.6 0ZM477.4 1229.1a15.3 15.3 0 1 0 30.6 0a15.3 15.3 0 1 0 -30.6 0ZM487.3 1234.1a15.3 15.3 0 1 0 30.6 0a15.3 15.3 0 1 0 -30.6 0ZM497.1 1240.6a15.3 15.3 0 1 0 30.6 0a15.3 15.3 0 1 0 -30.6 0ZM507 1251.1a15.3 15.3 0 1 0 30.6 0a15.3 15.3 0 1 0 -30.6 0ZM516.8 1259.8a15.3 15.3 0 1 0 30.6 0a15.3 15.3 0 1 0 -30.6 0ZM526.6 1267.6a15.3 15.3 0 1 0 30.6 0a15.3 15.3 0 1 0 -30.6 0ZM536.5 1275.5a15.3 15.3 0 1 0 30.6 0a15.3 15.3 0 1 0 -30.6 0ZM546.3 1284.4a15.3 15.3 0 1 0 30.6 0a15.3 15.3 0 1 0 -30.6 0ZM556.2 1294.2a15.3 15.3 0 1 0 30.6 0a15.3 15.3 0 1 0 -30.6 0ZM566 1304.5a15.3 15.3 0 1 0 30.6 0a15.3 15.3 0 1 0 -30.6 0ZM575.8 1315.3a15.3 15.3 0 1 0 30.6 0a15.3 15.3 0 1 0 -30.6 0ZM585.7 1327.8a15.3 15.3 0 1 0 30.6 0a15.3 15.3 0 1 0 -30.6 0ZM595.5 1350.3a15.3 15.3 0 1 0 30.6 0a15.3 15.3 0 1 0 -30.6 0ZM605.4 1365a15.3 15.3 0 1 0 30.6 0a15.3 15.3 0 1 0 -30.6 0ZM615.2 1379.3a15.3 15.3 0 1 0 30.6 0a15.3 15.3 0 1 0 -30.6 0ZM625 1404.8a15.3 15.3 0 1 0 30.6 0a15.3 15.3 0 1 0 -30.6 0ZM634.9 1421.4a15.3 15.3 0 1 0 30.6 0a15.3 15.3 0 1 0 -30.6 0ZM644.7 1444.8a15.3 15.3 0 1 0 30.6 0a15.3 15.3 0 1 0 -30.6 0ZM654.6 1455.3a15.3 15.3 0 1 0 30.6 0a15.3 15.3 0 1 0 -30.6 0ZM664.4 1466.7a15.3 15.3 0 1 0 30.6 0a15.3 15.3 0 1 0 -30.6 0ZM674.2 1491.1a15.3 15.3 0 1 0 30.6 0a15.3 15.3 0 1 0 -30.6 0ZM684.1 1520.5a15.3 15.3 0 1 0 30.6 0a15.3 15.3 0 1 0 -30.6 0ZM693.9 1551.4a15.3 15.3 0 1 0 30.6 0a15.3 15.3 0 1 0 -30.6 0ZM703.8 1581.3a15.3 15.3 0 1 0 30.6 0a15.3 15.3 0 1 0 -30.6 0ZM713.6 1608a15.3 15.3 0 1 0 30.6 0a15.3 15.3 0 1 0 -30.6 0ZM723.4 1633.3a15.3 15.3 0 1 0 30.6 0a15.3 15.3 0 1 0 -30.6 0ZM733.3 1657.3a15.3 15.3 0 1 0 30.6 0a15.3 15.3 0 1 0 -30.6 0ZM743.1 1672.8a15.3 15.3 0 1 0 30.6 0a15.3 15.3 0 1 0 -30.6 0ZM753 1679.7a15.3 15.3 0 1 0 30.6 0a15.3 15.3 0 1 0 -30.6 0ZM762.8 1694.1a15.3 15.3 0 1 0 30.6 0a15.3 15.3 0 1 0 -30.6 0Z"/>
<path fill="#6aaed7" d="M123.1 1123.5h30.6v30.6h-30.6ZM128 1110.7h30.6v30.6h-30.6ZM132.9 1112.3h30.6v30.6h-30.6ZM137.9 1120.6h30.6v30.6h-30.6ZM142.8 1126.7h30.6v30.6h-30.6ZM147.7 1132.2h30.6v30.6h-30.6ZM152.6 1139.8h30.6v30.6h-30.6ZM157.5 1149.7h30.6v30.6h-30.6ZM162.5 1156.4h30.6v30.6h-30.6ZM167.4 1160.4h30.6v30.6h-30.6ZM172.3 1164.4h30.6v30.6h-30.6ZM177.2 1169.9h30.6v30.6h-30.6ZM182.1 1177.9h30.6v30.6h-30.6ZM187.1 1189.4h30.6v30.6h-30.6ZM192 1200.1h30.6v30.6h-30.6ZM196.9 1212.6h30.6v30.6h-30.6ZM201.8 1231.2h30.6v30.6h-30.6ZM206.7 1242h30.6v30.6h-30.6ZM211.7 1257.2h30.6v30.6h-30.6ZM216.6 1271.8h30.6v30.6h-30.6ZM221.5 1286.3h30.6v30.6h-30.6ZM226.4 1300.5h30.6v30.6h-30.6ZM231.3 1318.9h30.6v30.6h-30.6ZM236.3 1339.3h30.6v30.6h-30.6ZM241.2 1361.5h30.6v30.6h-30.6ZM246.1 1387.6h30.6v30.6h-30.6ZM251 1411.6h30.6v30.6h-30.6ZM255.9 1437.8h30.6v30.6h-30.6ZM260.9 1464.4h30.6v30.6h-30.6ZM265.8 1496.8h30.6v30.6h-30.6ZM270.7 1531.8h30.6v30.6h-30.6ZM275.6 1567.2h30.6v30.6h-30.6ZM280.5 1597.6h30.6v30.6h-30.6ZM285.5 1625.8h30.6v30.6h-30.6Z"/>
<path fill="#3a7ebb" d="M123.2 1201.9L138.5 1186.6L153.8 1201.9L138.5 1217.2ZM128.1 1140L143.4 1124.7L158.7 1140L143.4 1155.3ZM133 1140L148.3 1124.7L163.6 1140L148.3 1155.3ZM137.9 1148L153.2 1132.7L168.5 1148L153.2 1163.3ZM142.8 1160L158.1 1144.7L173.4 1160L158.1 1175.3ZM147.7 1176L163 1160.7L178.3 1176L163 1191.3ZM152.6 1184.6L167.9 1169.3L183.2 1184.6L167.9 1199.9ZM157.5 1225.3L172.8 1210L188.1 1225.3L172.8 1240.6ZM162.4 1247.5L177.7 1232.2L193 1247.5L177.7 1262.8ZM167.3 1270.1L182.6 1254.8L197.9 1270.1L182.6 1285.4ZM172.2 1291L187.5 1275.7L202.8 1291L187.5 1306.3ZM177.1 1310.1L192.4 1294.8L207.7 1310.1L192.4 1325.4ZM182 1328L197.3 1312.7L212.6 1328L197.3 1343.3ZM186.9 1346L202.2 1330.7L217.5 1346L202.2 1361.3ZM191.8 1366.9L207.1 1351.6L222.4 1366.9L207.1 1382.2ZM196.7 1395.2L212 1379.9L227.3 1395.2L212 1410.5ZM201.6 1439.2L216.9 1423.9L232.2 1439.2L216.9 1454.5ZM123.2 1139.3L138.5 1124L153.8 1139.3L138.5 1154.6ZM128.1 1131.3L143.4 1116L158.7 1131.3L143.4 1146.6ZM133 1132L148.3 1116.7L163.6 1132L148.3 1147.3ZM137.9 1139.9L153.2 1124.6L168.5 1139.9L153.2 1155.2ZM142.8 1151L158.1 1135.7L173.4 1151L158.1 1166.3ZM147.7 1165.8L163 1150.5L178.3 1165.8L163 1181.1ZM152.6 1184.1L167.9 1168.8L183.2 1184.1L167.9 1199.4ZM157.5 1205L172.8 1189.7L188.1 1205L172.8 1220.3ZM162.4 1226.9L177.7 1211.6L193 1226.9L177.7 1242.2ZM167.3 1250.8L182.6 1235.5L197.9 1250.8L182.6 1266.1ZM172.2 1270.1L187.5 1254.8L202.8 1270.1L187.5 1285.4ZM177.1 1291L192.4 1275.7L207.7 1291L192.4 1306.3ZM182 1317L197.3 1301.7L212.6 1317L197.3 1332.3ZM186.9 1339L202.2 1323.7L217.5 1339L202.2 1354.3ZM191.8 1360.5L207.1 1345.2L222.4 1360.5L207.1 1375.8ZM196.7 1382.5L212 1367.2L227.3 1382.5L212 1397.8ZM201.6 1414.3L216.9 1399L232.2 1414.3L216.9 1429.6Z"/>
<line x1="957.8" y1="1058.3" x2="957.8" y2="1882.7" stroke="#000" stroke-width="4.2"/>
<line x1="949.8" y1="1806" x2="965.8" y2="1806" stroke="#000" stroke-width="4"/>
<line x1="941.8" y1="1731.5" x2="973.8" y2="1731.5" stroke="#000" stroke-width="4"/>
<line x1="949.8" y1="1656.9" x2="965.8" y2="1656.9" stroke="#000" stroke-width="4"/>
<line x1="941.8" y1="1582.4" x2="973.8" y2="1582.4" stroke="#000" stroke-width="4"/>
<line x1="949.8" y1="1507.8" x2="965.8" y2="1507.8" stroke="#000" stroke-width="4"/>
<line x1="941.8" y1="1433.3" x2="973.8" y2="1433.3" stroke="#000" stroke-width="4"/>
<line x1="949.8" y1="1358.8" x2="965.8" y2="1358.8" stroke="#000" stroke-width="4"/>
<line x1="941.8" y1="1284.2" x2="973.8" y2="1284.2" stroke="#000" stroke-width="4"/>
<line x1="949.8" y1="1209.6" x2="965.8" y2="1209.6" stroke="#000" stroke-width="4"/>
<line x1="941.8" y1="1135.1" x2="973.8" y2="1135.1" stroke="#000" stroke-width="4"/>
<path fill="#c6dbeb" d="M957.8 1118L973.3 1144.5L942.3 1144.5ZM965 1146L980.5 1172.5L949.5 1172.5ZM972 1151L987.5 1177.5L956.5 1177.5ZM979 1156L994.5 1182.5L963.5 1182.5ZM985.8 1160L1001.3 1186.5L970.3 1186.5ZM992.7 1163L1008.2 1189.5L977.2 1189.5ZM999.5 1169L1015 1195.5L984 1195.5ZM1006.3 1177L1021.8 1203.5L990.8 1203.5ZM1013 1184L1028.5 1210.5L997.5 1210.5ZM1019.6 1190.8L1035.1 1217.3L1004.1 1217.3ZM1026.1 1196.1L1041.6 1222.6L1010.6 1222.6ZM1032.6 1199.6L1048.1 1226.1L1017.1 1226.1ZM1039.1 1200.5L1054.6 1227L1023.6 1227ZM1045.6 1200.3L1061.1 1226.8L1030.1 1226.8ZM1052 1198.3L1067.5 1224.8L1036.5 1224.8ZM1058.5 1195.7L1074 1222.2L1043 1222.2ZM1065 1193.6L1080.5 1220.1L1049.5 1220.1ZM1071.6 1191.7L1087.1 1218.2L1056.1 1218.2ZM1078.1 1189.7L1093.6 1216.2L1062.6 1216.2ZM1084.7 1187.7L1100.2 1214.2L1069.2 1214.2ZM1091.2 1185.9L1106.7 1212.4L1075.7 1212.4ZM1097.8 1184.5L1113.3 1211L1082.3 1211ZM1104.5 1183L1120 1209.5L1089 1209.5ZM1111.1 1181.3L1126.6 1207.8L1095.6 1207.8ZM1117.7 1179.3L1133.2 1205.8L1102.2 1205.8ZM1124.4 1177.2L1139.9 1203.7L1108.9 1203.7ZM1131.1 1175.1L1146.6 1201.6L1115.6 1201.6ZM1137.8 1173.2L1153.3 1199.7L1122.3 1199.7ZM1144.5 1171.6L1160 1198.1L1129 1198.1ZM1151.2 1170.4L1166.7 1196.9L1135.7 1196.9ZM1158 1169.5L1173.5 1196L1142.5 1196ZM1164.8 1168.7L1180.3 1195.2L1149.3 1195.2ZM1171.5 1168.1L1187 1194.6L1156 1194.6ZM1178.3 1167.5L1193.8 1194L1162.8 1194ZM1185.1 1166.8L1200.6 1193.3L1169.6 1193.3ZM1191.8 1166L1207.3 1192.5L1176.3 1192.5ZM1198.6 1165.4L1214.1 1191.9L1183.1 1191.9ZM1205.4 1165.1L1220.9 1191.6L1189.9 1191.6ZM1212.2 1165.3L1227.7 1191.8L1196.7 1191.8ZM1219 1165.7L1234.5 1192.2L1203.5 1192.2ZM1225.8 1166.1L1241.3 1192.6L1210.3 1192.6ZM1232.6 1166.6L1248.1 1193.1L1217.1 1193.1ZM1239.4 1167.3L1254.9 1193.8L1223.9 1193.8ZM1246.2 1168L1261.7 1194.5L1230.7 1194.5ZM1252.9 1168.6L1268.4 1195.1L1237.4 1195.1ZM1259.7 1169.2L1275.2 1195.7L1244.2 1195.7ZM1266.5 1169.7L1282 1196.2L1251 1196.2ZM1273.2 1170.2L1288.7 1196.7L1257.7 1196.7ZM1280 1170.7L1295.5 1197.2L1264.5 1197.2ZM1286.7 1171.1L1302.2 1197.6L1271.2 1197.6ZM1293.5 1171.6L1309 1198.1L1278 1198.1ZM1300.2 1172.1L1315.7 1198.6L1284.7 1198.6ZM1306.9 1172.6L1322.4 1199.1L1291.4 1199.1ZM1313.7 1173.2L1329.2 1199.7L1298.2 1199.7ZM1320.4 1173.8L1335.9 1200.3L1304.9 1200.3ZM1327.1 1174.5L1342.6 1201L1311.6 1201ZM1333.8 1175.3L1349.3 1201.8L1318.3 1201.8ZM1340.5 1176.1L1356 1202.6L1325 1202.6ZM1347.2 1177L1362.7 1203.5L1331.7 1203.5ZM1353.9 1177.9L1369.4 1204.4L1338.4 1204.4ZM1360.6 1178.7L1376.1 1205.2L1345.1 1205.2ZM1367.2 1179.6L1382.7 1206.1L1351.7 1206.1ZM1373.9 1180.4L1389.4 1206.9L1358.4 1206.9ZM1380.6 1181.2L1396.1 1207.7L1365.1 1207.7ZM1387.2 1182L1402.7 1208.5L1371.7 1208.5ZM1393.8 1182.9L1409.3 1209.4L1378.3 1209.4ZM1400.5 1183.7L1416 1210.2L1385 1210.2ZM1407.1 1184.5L1422.6 1211L1391.6 1211ZM1413.7 1185.3L1429.2 1211.8L1398.2 1211.8ZM1420.3 1186.2L1435.8 1212.7L1404.8 1212.7ZM1426.9 1187L1442.4 1213.5L1411.4 1213.5ZM1433.5 1187.8L1449 1214.3L1418 1214.3ZM1440.1 1188.7L1455.6 1215.2L1424.6 1215.2ZM1446.7 1189.6L1462.2 1216.1L1431.2 1216.1ZM1453.2 1190.4L1468.7 1216.9L1437.7 1216.9ZM1459.8 1191.3L1475.3 1217.8L1444.3 1217.8ZM1466.3 1192.1L1481.8 1218.6L1450.8 1218.6ZM1472.9 1192.8L1488.4 1219.3L1457.4 1219.3ZM1479.4 1193.6L1494.9 1220.1L1463.9 1220.1ZM1485.9 1194.2L1501.4 1220.7L1470.4 1220.7ZM1492.5 1194.9L1508 1221.4L1477 1221.4ZM1499 1195.5L1514.5 1222L1483.5 1222ZM1505.5 1196L1521 1222.5L1490 1222.5ZM1512 1196.6L1527.5 1223.1L1496.5 1223.1Z"/>
<path fill="#9ecae1" d="M942.5 1114.3a15.3 15.3 0 1 0 30.6 0a15.3 15.3 0 1 0 -30.6 0ZM956.2 1128a15.3 15.3 0 1 0 30.6 0a15.3 15.3 0 1 0 -30.6 0ZM969.6 1139.6a15.3 15.3 0 1 0 30.6 0a15.3 15.3 0 1 0 -30.6 0ZM982.8 1145.4a15.3 15.3 0 1 0 30.6 0a15.3 15.3 0 1 0 -30.6 0ZM995.9 1148.1a15.3 15.3 0 1 0 30.6 0a15.3 15.3 0 1 0 -30.6 0ZM1009 1150a15.3 15.3 0 1 0 30.6 0a15.3 15.3 0 1 0 -30.6 0ZM1022 1151.7a15.3 15.3 0 1 0 30.6 0a15.3 15.3 0 1 0 -30.6 0ZM1035.1 1153.7a15.3 15.3 0 1 0 30.6 0a15.3 15.3 0 1 0 -30.6 0ZM1048 1155.6a15.3 15.3 0 1 0 30.6 0a15.3 15.3 0 1 0 -30.6 0ZM1061 1157.4a15.3 15.3 0 1 0 30.6 0a15.3 15.3 0 1 0 -30.6 0ZM1073.9 1159a15.3 15.3 0 1 0 30.6 0a15.3 15.3 0 1 0 -30.6 0ZM1086.7 1160.3a15.3 15.3 0 1 0 30.6 0a15.3 15.3 0 1 0 -30.6 0ZM1099.6 1161.3a15.3 15.3 0 1 0 30.6 0a15.3 15.3 0 1 0 -30.6 0ZM1112.4 1162.2a15.3 15.3 0 1 0 30.6 0a15.3 15.3 0 1 0 -30.6 0ZM1125.2 1163.1a15.3 15.3 0 1 0 30.6 0a15.3 15.3 0 1 0 -30.6 0ZM1138.1 1164.1a15.3 15.3 0 1 0 30.6 0a15.3 15.3 0 1 0 -30.6 0ZM1150.8 1165.1a15.3 15.3 0 1 0 30.6 0a15.3 15.3 0 1 0 -30.6 0ZM1163.6 1166.1a15.3 15.3 0 1 0 30.6 0a15.3 15.3 0 1 0 -30.6 0ZM1176.4 1167.1a15.3 15.3 0 1 0 30.6 0a15.3 15.3 0 1 0 -30.6 0ZM1189.1 1168.2a15.3 15.3 0 1 0 30.6 0a15.3 15.3 0 1 0 -30.6 0ZM1201.8 1169.5a15.3 15.3 0 1 0 30.6 0a15.3 15.3 0 1 0 -30.6 0ZM1214.5 1171.1a15.3 15.3 0 1 0 30.6 0a15.3 15.3 0 1 0 -30.6 0ZM1227.1 1173.2a15.3 15.3 0 1 0 30.6 0a15.3 15.3 0 1 0 -30.6 0ZM1239.8 1175.9a15.3 15.3 0 1 0 30.6 0a15.3 15.3 0 1 0 -30.6 0ZM1252.3 1178.9a15.3 15.3 0 1 0 30.6 0a15.3 15.3 0 1 0 -30.6 0ZM1264.9 1181.8a15.3 15.3 0 1 0 30.6 0a15.3 15.3 0 1 0 -30.6 0ZM1277.3 1184.8a15.3 15.3 0 1 0 30.6 0a15.3 15.3 0 1 0 -30.6 0ZM1289.7 1187.9a15.3 15.3 0 1 0 30.6 0a15.3 15.3 0 1 0 -30.6 0ZM1302.1 1191.2a15.3 15.3 0 1 0 30.6 0a15.3 15.3 0 1 0 -30.6 0ZM1314.4 1194.7a15.3 15.3 0 1 0 30.6 0a15.3 15.3 0 1 0 -30.6 0ZM1326.6 1198.5a15.3 15.3 0 1 0 30.6 0a15.3 15.3 0 1 0 -30.6 0ZM1338.8 1202.6a15.3 15.3 0 1 0 30.6 0a15.3 15.3 0 1 0 -30.6 0ZM1350.9 1207a15.3 15.3 0 1 0 30.6 0a15.3 15.3 0 1 0 -30.6 0ZM1362.9 1211.9a15.3 15.3 0 1 0 30.6 0a15.3 15.3 0 1 0 -30.6 0ZM1374.9 1217.5a15.3 15.3 0 1 0 30.6 0a15.3 15.3 0 1 0 -30.6 0ZM1386.7 1224a15.3 15.3 0 1 0 30.6 0a15.3 15.3 0 1 0 -30.6 0ZM1399.1 1229.1a15.3 15.3 0 1 0 30.6 0a15.3 15.3 0 1 0 -30.6 0ZM1411.4 1234.1a15.3 15.3 0 1 0 30.6 0a15.3 15.3 0 1 0 -30.6 0ZM1423.7 1240.6a15.3 15.3 0 1 0 30.6 0a15.3 15.3 0 1 0 -30.6 0ZM1435.8 1251.1a15.3 15.3 0 1 0 30.6 0a15.3 15.3 0 1 0 -30.6 0ZM1447.7 1259.8a15.3 15.3 0 1 0 30.6 0a15.3 15.3 0 1 0 -30.6 0ZM1458.9 1267.6a15.3 15.3 0 1 0 30.6 0a15.3 15.3 0 1 0 -30.6 0ZM1469.8 1275.5a15.3 15.3 0 1 0 30.6 0a15.3 15.3 0 1 0 -30.6 0ZM1480.7 1284.4a15.3 15.3 0 1 0 30.6 0a15.3 15.3 0 1 0 -30.6 0ZM1491.4 1294.2a15.3 15.3 0 1 0 30.6 0a15.3 15.3 0 1 0 -30.6 0ZM1501.9 1304.5a15.3 15.3 0 1 0 30.6 0a15.3 15.3 0 1 0 -30.6 0ZM1512.2 1315.3a15.3 15.3 0 1 0 30.6 0a15.3 15.3 0 1 0 -30.6 0ZM1522.4 1327.8a15.3 15.3 0 1 0 30.6 0a15.3 15.3 0 1 0 -30.6 0ZM1532.3 1350.3a15.3 15.3 0 1 0 30.6 0a15.3 15.3 0 1 0 -30.6 0ZM1541.8 1365a15.3 15.3 0 1 0 30.6 0a15.3 15.3 0 1 0 -30.6 0ZM1551 1379.3a15.3 15.3 0 1 0 30.6 0a15.3 15.3 0 1 0 -30.6 0ZM1559.7 1404.8a15.3 15.3 0 1 0 30.6 0a15.3 15.3 0 1 0 -30.6 0ZM1568 1421.4a15.3 15.3 0 1 0 30.6 0a15.3 15.3 0 1 0 -30.6 0ZM1575.9 1444.8a15.3 15.3 0 1 0 30.6 0a15.3 15.3 0 1 0 -30.6 0ZM1583.5 1455.3a15.3 15.3 0 1 0 30.6 0a15.3 15.3 0 1 0 -30.6 0ZM1590.8 1466.7a15.3 15.3 0 1 0 30.6 0a15.3 15.3 0 1 0 -30.6 0ZM1598 1491.1a15.3 15.3 0 1 0 30.6 0a15.3 15.3 0 1 0 -30.6 0ZM1604.8 1520.5a15.3 15.3 0 1 0 30.6 0a15.3 15.3 0 1 0 -30.6 0ZM1611 1551.4a15.3 15.3 0 1 0 30.6 0a15.3 15.3 0 1 0 -30.6 0ZM1616.7 1581.3a15.3 15.3 0 1 0 30.6 0a15.3 15.3 0 1 0 -30.6 0ZM1621.8 1608a15.3 15.3 0 1 0 30.6 0a15.3 15.3 0 1 0 -30.6 0ZM1626.5 1633.3a15.3 15.3 0 1 0 30.6 0a15.3 15.3 0 1 0 -30.6 0ZM1630.7 1657.3a15.3 15.3 0 1 0 30.6 0a15.3 15.3 0 1 0 -30.6 0ZM1634.5 1672.8a15.3 15.3 0 1 0 30.6 0a15.3 15.3 0 1 0 -30.6 0ZM1638.1 1679.7a15.3 15.3 0 1 0 30.6 0a15.3 15.3 0 1 0 -30.6 0ZM1641.5 1694.1a15.3 15.3 0 1 0 30.6 0a15.3 15.3 0 1 0 -30.6 0Z"/>
<path fill="#6aaed7" d="M942.5 1123.5h30.6v30.6h-30.6ZM958.5 1110.7h30.6v30.6h-30.6ZM971.4 1112.3h30.6v30.6h-30.6ZM984.3 1120.6h30.6v30.6h-30.6ZM997.1 1126.7h30.6v30.6h-30.6ZM1009.7 1132.2h30.6v30.6h-30.6ZM1022.3 1139.8h30.6v30.6h-30.6ZM1034.7 1149.7h30.6v30.6h-30.6ZM1047 1156.4h30.6v30.6h-30.6ZM1059.1 1160.4h30.6v30.6h-30.6ZM1071.2 1164.4h30.6v30.6h-30.6ZM1083.2 1169.9h30.6v30.6h-30.6ZM1095.1 1177.9h30.6v30.6h-30.6ZM1106.9 1189.4h30.6v30.6h-30.6ZM1118.5 1200.1h30.6v30.6h-30.6ZM1129.8 1212.6h30.6v30.6h-30.6ZM1141 1231.2h30.6v30.6h-30.6ZM1151.9 1242h30.6v30.6h-30.6ZM1162.6 1257.2h30.6v30.6h-30.6ZM1173 1271.8h30.6v30.6h-30.6ZM1183.1 1286.3h30.6v30.6h-30.6ZM1192.9 1300.5h30.6v30.6h-30.6ZM1202.5 1318.9h30.6v30.6h-30.6ZM1211.7 1339.3h30.6v30.6h-30.6ZM1220.6 1361.5h30.6v30.6h-30.6ZM1229.1 1387.6h30.6v30.6h-30.6ZM1237.2 1411.6h30.6v30.6h-30.6ZM1244.7 1437.8h30.6v30.6h-30.6ZM1251.8 1464.4h30.6v30.6h-30.6ZM1258.3 1496.8h30.6v30.6h-30.6ZM1264.4 1531.8h30.6v30.6h-30.6ZM1269.9 1567.2h30.6v30.6h-30.6ZM1274.9 1597.6h30.6v30.6h-30.6ZM1279.3 1625.8h30.6v30.6h-30.6Z"/>
<path fill="#3a7ebb" d="M944.7 1138.5L960 1123.2L975.3 1138.5L960 1153.8ZM959.5 1131L974.8 1115.7L990.1 1131L974.8 1146.3ZM974.4 1132.3L989.7 1117L1005 1132.3L989.7 1147.6ZM988.6 1138.5L1003.9 1123.2L1019.2 1138.5L1003.9 1153.8ZM1002.7 1150L1018 1134.7L1033.3 1150L1018 1165.3ZM1016.7 1165L1032 1149.7L1047.3 1165L1032 1180.3ZM1031.5 1184.2L1046.8 1168.9L1062.1 1184.2L1046.8 1199.5ZM1045.1 1205.1L1060.4 1189.8L1075.7 1205.1L1060.4 1220.4ZM1058.1 1227.8L1073.4 1212.5L1088.7 1227.8L1073.4 1243.1ZM1070.3 1250.5L1085.6 1235.2L1100.9 1250.5L1085.6 1265.8ZM1082.5 1274.1L1097.8 1258.8L1113.1 1274.1L1097.8 1289.4ZM1094.3 1295.6L1109.6 1280.3L1124.9 1295.6L1109.6 1310.9ZM1105.1 1317.1L1120.4 1301.8L1135.7 1317.1L1120.4 1332.4ZM1115.8 1338.5L1131.1 1323.2L1146.4 1338.5L1131.1 1353.8ZM1125.9 1360L1141.2 1344.7L1156.5 1360L1141.2 1375.3ZM1136.6 1381.5L1151.9 1366.2L1167.2 1381.5L1151.9 1396.8ZM1146.3 1414.3L1161.6 1399L1176.9 1414.3L1161.6 1429.6Z"/>
<line x1="955.7" y1="2021.2" x2="1778.9" y2="2021.2" stroke="#000" stroke-width="4.2"/>
<line x1="958" y1="2019.2" x2="958" y2="2006.2" stroke="#000" stroke-width="4"/>
<line x1="1059.2" y1="2019.2" x2="1059.2" y2="2013.2" stroke="#000" stroke-width="4"/>
<line x1="1160.4" y1="2019.2" x2="1160.4" y2="2006.2" stroke="#000" stroke-width="4"/>
<line x1="1261.6" y1="2019.2" x2="1261.6" y2="2013.2" stroke="#000" stroke-width="4"/>
<line x1="1362.8" y1="2019.2" x2="1362.8" y2="2006.2" stroke="#000" stroke-width="4"/>
<line x1="1464" y1="2019.2" x2="1464" y2="2013.2" stroke="#000" stroke-width="4"/>
<line x1="1565.3" y1="2019.2" x2="1565.3" y2="2006.2" stroke="#000" stroke-width="4"/>
<line x1="1666.5" y1="2019.2" x2="1666.5" y2="2013.2" stroke="#000" stroke-width="4"/>
<line x1="1767.7" y1="2019.2" x2="1767.7" y2="2006.2" stroke="#000" stroke-width="4"/>
<text x="121.8" y="948.7" text-anchor="end" font-family="Arimo, Liberation Sans, Arial, sans-serif" font-weight="bold" font-size="40" >0</text>
<text x="121.8" y="654.6" text-anchor="end" font-family="Arimo, Liberation Sans, Arial, sans-serif" font-weight="bold" font-size="40" >1</text>
<text x="121.8" y="360.6" text-anchor="end" font-family="Arimo, Liberation Sans, Arial, sans-serif" font-weight="bold" font-size="40" >2</text>
<text x="121.8" y="66.5" text-anchor="end" font-family="Arimo, Liberation Sans, Arial, sans-serif" font-weight="bold" font-size="40" >3</text>
<text x="137.5" y="985.9" text-anchor="middle" font-family="Arimo, Liberation Sans, Arial, sans-serif" font-weight="bold" font-size="40" >0</text>
<text x="465.3" y="985.9" text-anchor="middle" font-family="Arimo, Liberation Sans, Arial, sans-serif" font-weight="bold" font-size="40" >200</text>
<text x="793.1" y="985.9" text-anchor="middle" font-family="Arimo, Liberation Sans, Arial, sans-serif" font-weight="bold" font-size="40" >400</text>
<text x="1121" y="985.9" text-anchor="middle" font-family="Arimo, Liberation Sans, Arial, sans-serif" font-weight="bold" font-size="40" >600</text>
<text x="1448.8" y="985.9" text-anchor="middle" font-family="Arimo, Liberation Sans, Arial, sans-serif" font-weight="bold" font-size="40" >800</text>
<text x="1776.6" y="985.9" text-anchor="middle" font-family="Arimo, Liberation Sans, Arial, sans-serif" font-weight="bold" font-size="40" >1000</text>
<text x="953" y="1035.5" text-anchor="middle" font-family="Arimo, Liberation Sans, Arial, sans-serif" font-size="48" >Cycle</text>
<text x="840.6" y="514.9" text-anchor="end" font-family="Arimo, Liberation Sans, Arial, sans-serif" font-weight="bold" font-size="40" >0</text>
<text x="840.6" y="371.8" text-anchor="end" font-family="Arimo, Liberation Sans, Arial, sans-serif" font-weight="bold" font-size="40" >400</text>
<text x="840.6" y="228.7" text-anchor="end" font-family="Arimo, Liberation Sans, Arial, sans-serif" font-weight="bold" font-size="40" >800</text>
<text x="840.6" y="85.6" text-anchor="end" font-family="Arimo, Liberation Sans, Arial, sans-serif" font-weight="bold" font-size="40" >1200</text>
<text x="856.6" y="552.3" text-anchor="middle" font-family="Arimo, Liberation Sans, Arial, sans-serif" font-weight="bold" font-size="40" >0</text>
<text x="1020.6" y="552.3" text-anchor="middle" font-family="Arimo, Liberation Sans, Arial, sans-serif" font-weight="bold" font-size="40" >200</text>
<text x="1184.6" y="552.3" text-anchor="middle" font-family="Arimo, Liberation Sans, Arial, sans-serif" font-weight="bold" font-size="40" >400</text>
<text x="1348.5" y="552.3" text-anchor="middle" font-family="Arimo, Liberation Sans, Arial, sans-serif" font-weight="bold" font-size="40" >600</text>
<text x="1512.5" y="552.3" text-anchor="middle" font-family="Arimo, Liberation Sans, Arial, sans-serif" font-weight="bold" font-size="40" >800</text>
<text x="1676.5" y="552.3" text-anchor="middle" font-family="Arimo, Liberation Sans, Arial, sans-serif" font-weight="bold" font-size="40" >1000</text>
<text x="1263" y="601" text-anchor="middle" font-family="Arimo, Liberation Sans, Arial, sans-serif" font-size="48" >Cycle</text>
<text x="121.8" y="1894.8" text-anchor="end" font-family="Arimo, Liberation Sans, Arial, sans-serif" font-weight="bold" font-size="40" >0</text>
<text x="121.8" y="1745.7" text-anchor="end" font-family="Arimo, Liberation Sans, Arial, sans-serif" font-weight="bold" font-size="40" >0.2</text>
<text x="121.8" y="1596.6" text-anchor="end" font-family="Arimo, Liberation Sans, Arial, sans-serif" font-weight="bold" font-size="40" >0.4</text>
<text x="121.8" y="1447.5" text-anchor="end" font-family="Arimo, Liberation Sans, Arial, sans-serif" font-weight="bold" font-size="40" >0.6</text>
<text x="121.8" y="1298.4" text-anchor="end" font-family="Arimo, Liberation Sans, Arial, sans-serif" font-weight="bold" font-size="40" >0.8</text>
<text x="121.8" y="1149.3" text-anchor="end" font-family="Arimo, Liberation Sans, Arial, sans-serif" font-weight="bold" font-size="40" >1</text>
<text x="137.6" y="1932.2" text-anchor="middle" font-family="Arimo, Liberation Sans, Arial, sans-serif" font-weight="bold" font-size="40" >0</text>
<text x="301.6" y="1932.2" text-anchor="middle" font-family="Arimo, Liberation Sans, Arial, sans-serif" font-weight="bold" font-size="40" >200</text>
<text x="465.6" y="1932.2" text-anchor="middle" font-family="Arimo, Liberation Sans, Arial, sans-serif" font-weight="bold" font-size="40" >400</text>
<text x="629.6" y="1932.2" text-anchor="middle" font-family="Arimo, Liberation Sans, Arial, sans-serif" font-weight="bold" font-size="40" >600</text>
<text x="793.6" y="1932.2" text-anchor="middle" font-family="Arimo, Liberation Sans, Arial, sans-serif" font-weight="bold" font-size="40" >800</text>
<text x="543.5" y="1983" text-anchor="middle" font-family="Arimo, Liberation Sans, Arial, sans-serif" font-size="48" >Cycle</text>
<text x="957.8" y="1932.2" text-anchor="middle" font-family="Arimo, Liberation Sans, Arial, sans-serif" font-weight="bold" font-size="40" >0</text>
<text x="1230.8" y="1932.2" text-anchor="middle" font-family="Arimo, Liberation Sans, Arial, sans-serif" font-weight="bold" font-size="40" >100</text>
<text x="1503.8" y="1932.2" text-anchor="middle" font-family="Arimo, Liberation Sans, Arial, sans-serif" font-weight="bold" font-size="40" >200</text>
<text x="1776.8" y="1932.2" text-anchor="middle" font-family="Arimo, Liberation Sans, Arial, sans-serif" font-weight="bold" font-size="40" >300</text>
<text x="1352" y="1982" text-anchor="middle" font-family="Arimo, Liberation Sans, Arial, sans-serif" font-size="48" >Equivalent Full Cycle</text>
<text x="958" y="2072.5" text-anchor="middle" font-family="Arimo, Liberation Sans, Arial, sans-serif" font-weight="bold" font-size="40" >0</text>
<text x="1160.4" y="2072.5" text-anchor="middle" font-family="Arimo, Liberation Sans, Arial, sans-serif" font-weight="bold" font-size="40" >20000</text>
<text x="1362.8" y="2072.5" text-anchor="middle" font-family="Arimo, Liberation Sans, Arial, sans-serif" font-weight="bold" font-size="40" >40000</text>
<text x="1565.3" y="2072.5" text-anchor="middle" font-family="Arimo, Liberation Sans, Arial, sans-serif" font-weight="bold" font-size="40" >60000</text>
<text x="1767.7" y="2072.5" text-anchor="middle" font-family="Arimo, Liberation Sans, Arial, sans-serif" font-weight="bold" font-size="40" >80000</text>
<text x="1347" y="2121.5" text-anchor="middle" font-family="Arimo, Liberation Sans, Arial, sans-serif" font-size="48" >Capacity Throughput (mAh)</text>
<text transform="translate(64.4,724.5) rotate(-90)" font-family="Arimo, Liberation Sans, Arial, sans-serif" font-size="47.5" textLength="498.1" lengthAdjust="spacingAndGlyphs">Areal Capacity (mAh/cm</text>
<text transform="translate(49.1,226.5) rotate(-90)" font-family="Arimo, Liberation Sans, Arial, sans-serif" font-size="30">2</text>
<text transform="translate(64.4,208.8) rotate(-90)" font-family="Arimo, Liberation Sans, Arial, sans-serif" font-size="47.5">)</text>
<text transform="translate(35.1,1468.7) rotate(-90)" text-anchor="middle" font-family="Arimo, Liberation Sans, Arial, sans-serif" font-size="47.4">Normalized Capacity</text>
<text transform="translate(666.8,262.1) rotate(-90)" text-anchor="middle" font-family="Arimo, Liberation Sans, Arial, sans-serif" font-size="47.4">Stack Energy Density</text>
<text transform="translate(720.2,263.8) rotate(-90)" text-anchor="middle" font-family="Arimo, Liberation Sans, Arial, sans-serif" font-size="47.4">(Wh/L)</text>
<text x="1328.8" y="103.6" text-anchor="start" font-family="Arimo, Liberation Sans, Arial, sans-serif" font-size="47.3" textLength="298.7" lengthAdjust="spacingAndGlyphs">90% 3.00-4.5 V</text>
<text x="1328.8" y="159.8" text-anchor="start" font-family="Arimo, Liberation Sans, Arial, sans-serif" font-size="47.3" textLength="298.7" lengthAdjust="spacingAndGlyphs">80% 3.60-4.5 V</text>
<text x="1328.8" y="216" text-anchor="start" font-family="Arimo, Liberation Sans, Arial, sans-serif" font-size="47.3" textLength="298.7" lengthAdjust="spacingAndGlyphs">45% 3.80-4.5 V</text>
<text x="1328.8" y="272.2" text-anchor="start" font-family="Arimo, Liberation Sans, Arial, sans-serif" font-size="47.3" textLength="298.7" lengthAdjust="spacingAndGlyphs">23% 4.05-4.5 V</text>
<path fill="#3a7ebb" d="M1265.5 87.8L1279.5 73.8L1293.5 87.8L1279.5 101.8Z"/>
<path fill="#6aaed7" d="M1265.6 129.9h28.2v28.2h-28.2Z"/>
<path fill="#9ecae1" d="M1265.7 199.8a14 14 0 1 0 28 0a14 14 0 1 0 -28 0Z"/>
<path fill="#c6dbeb" d="M1279.7 244.2L1293.8 268L1265.6 268Z"/>
<text x="169.9" y="66.5" text-anchor="start" font-family="Carlito, Liberation Sans, sans-serif" font-weight="bold" font-size="80" >a</text>
<text x="170.5" y="1123.2" text-anchor="start" font-family="Carlito, Liberation Sans, sans-serif" font-weight="bold" font-size="80" >b</text>
<text x="993.7" y="1123.3" text-anchor="start" font-family="Carlito, Liberation Sans, sans-serif" font-weight="bold" font-size="80" >c</text>
</svg>
</body></html>
